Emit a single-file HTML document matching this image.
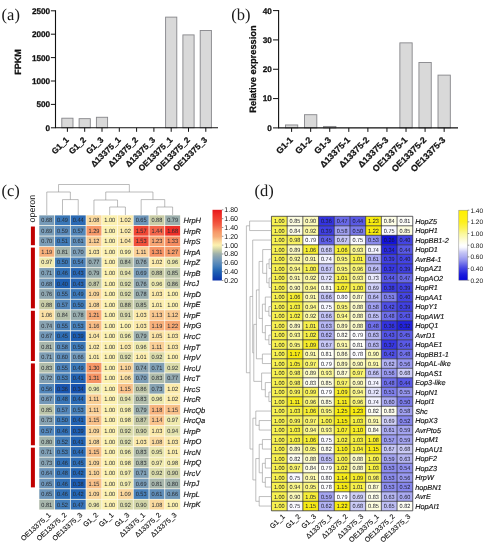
<!DOCTYPE html>
<html lang="en"><head><meta charset="utf-8"><title>Figure</title>
<style>html,body{margin:0;padding:0;background:#fff}svg{display:block}</style></head><body>
<svg width="487" height="550" viewBox="0 0 487 550" text-rendering="geometricPrecision">
<rect width="487" height="550" fill="#fff"/>
<text x="1.6" y="19.6" font-family='"Liberation Serif", "DejaVu Serif", serif' font-size="16.5" fill="#1a1a1a">(a)</text>
<text x="231.2" y="19.6" font-family='"Liberation Serif", "DejaVu Serif", serif' font-size="16.5" fill="#1a1a1a">(b)</text>
<text x="1.4" y="195.6" font-family='"Liberation Serif", "DejaVu Serif", serif' font-size="16.5" fill="#1a1a1a">(c)</text>
<text x="254.4" y="195.6" font-family='"Liberation Serif", "DejaVu Serif", serif' font-size="16.5" fill="#1a1a1a">(d)</text>
<rect x="61.8" y="118.21" width="11.2" height="9.59" fill="#d9d9d9" stroke="#86868a" stroke-width="0.9"/>
<rect x="79.1" y="118.67" width="11.2" height="9.13" fill="#d9d9d9" stroke="#86868a" stroke-width="0.9"/>
<rect x="96.4" y="117.27" width="11.2" height="10.53" fill="#d9d9d9" stroke="#86868a" stroke-width="0.9"/>
<rect x="165.6" y="17.12" width="11.2" height="110.68" fill="#d9d9d9" stroke="#86868a" stroke-width="0.9"/>
<rect x="182.9" y="34.9" width="11.2" height="92.9" fill="#d9d9d9" stroke="#86868a" stroke-width="0.9"/>
<rect x="200.2" y="30.46" width="11.2" height="97.34" fill="#d9d9d9" stroke="#86868a" stroke-width="0.9"/>
<path d="M55.5 10.3V127.8H218" fill="none" stroke="#111" stroke-width="1.1"/>
<path d="M50.9 127.8H55.5" stroke="#111" stroke-width="1"/>
<text x="50.1" y="130.7" text-anchor="end" font-family='"Liberation Sans", Arial, Helvetica, sans-serif' font-weight="bold" font-size="8.2" fill="#111" stroke="#111" stroke-width="0.25">0</text>
<path d="M50.9 104.4H55.5" stroke="#111" stroke-width="1"/>
<text x="50.1" y="107.3" text-anchor="end" font-family='"Liberation Sans", Arial, Helvetica, sans-serif' font-weight="bold" font-size="8.2" fill="#111" stroke="#111" stroke-width="0.25">500</text>
<path d="M50.9 81H55.5" stroke="#111" stroke-width="1"/>
<text x="50.1" y="83.9" text-anchor="end" font-family='"Liberation Sans", Arial, Helvetica, sans-serif' font-weight="bold" font-size="8.2" fill="#111" stroke="#111" stroke-width="0.25">1000</text>
<path d="M50.9 57.6H55.5" stroke="#111" stroke-width="1"/>
<text x="50.1" y="60.5" text-anchor="end" font-family='"Liberation Sans", Arial, Helvetica, sans-serif' font-weight="bold" font-size="8.2" fill="#111" stroke="#111" stroke-width="0.25">1500</text>
<path d="M50.9 34.2H55.5" stroke="#111" stroke-width="1"/>
<text x="50.1" y="37.1" text-anchor="end" font-family='"Liberation Sans", Arial, Helvetica, sans-serif' font-weight="bold" font-size="8.2" fill="#111" stroke="#111" stroke-width="0.25">2000</text>
<path d="M50.9 10.8H55.5" stroke="#111" stroke-width="1"/>
<text x="50.1" y="13.7" text-anchor="end" font-family='"Liberation Sans", Arial, Helvetica, sans-serif' font-weight="bold" font-size="8.2" fill="#111" stroke="#111" stroke-width="0.25">2500</text>
<path d="M67.4 127.8V131.8" stroke="#111" stroke-width="1"/>
<text transform="translate(69.3 140.5) rotate(-45)" text-anchor="end" font-family='"Liberation Sans", Arial, Helvetica, sans-serif' font-weight="bold" font-size="8.3" fill="#111" stroke="#111" stroke-width="0.25">G1_1</text>
<path d="M84.7 127.8V131.8" stroke="#111" stroke-width="1"/>
<text transform="translate(86.6 140.5) rotate(-45)" text-anchor="end" font-family='"Liberation Sans", Arial, Helvetica, sans-serif' font-weight="bold" font-size="8.3" fill="#111" stroke="#111" stroke-width="0.25">G1_2</text>
<path d="M102 127.8V131.8" stroke="#111" stroke-width="1"/>
<text transform="translate(103.9 140.5) rotate(-45)" text-anchor="end" font-family='"Liberation Sans", Arial, Helvetica, sans-serif' font-weight="bold" font-size="8.3" fill="#111" stroke="#111" stroke-width="0.25">G1_3</text>
<path d="M119.3 127.8V131.8" stroke="#111" stroke-width="1"/>
<text transform="translate(121.2 140.5) rotate(-45)" text-anchor="end" font-family='"Liberation Sans", Arial, Helvetica, sans-serif' font-weight="bold" font-size="8.3" fill="#111" stroke="#111" stroke-width="0.25">Δ13375_1</text>
<path d="M136.6 127.8V131.8" stroke="#111" stroke-width="1"/>
<text transform="translate(138.5 140.5) rotate(-45)" text-anchor="end" font-family='"Liberation Sans", Arial, Helvetica, sans-serif' font-weight="bold" font-size="8.3" fill="#111" stroke="#111" stroke-width="0.25">Δ13375_2</text>
<path d="M153.9 127.8V131.8" stroke="#111" stroke-width="1"/>
<text transform="translate(155.8 140.5) rotate(-45)" text-anchor="end" font-family='"Liberation Sans", Arial, Helvetica, sans-serif' font-weight="bold" font-size="8.3" fill="#111" stroke="#111" stroke-width="0.25">Δ13375_3</text>
<path d="M171.2 127.8V131.8" stroke="#111" stroke-width="1"/>
<text transform="translate(173.1 140.5) rotate(-45)" text-anchor="end" font-family='"Liberation Sans", Arial, Helvetica, sans-serif' font-weight="bold" font-size="8.3" fill="#111" stroke="#111" stroke-width="0.25">OE13375_1</text>
<path d="M188.5 127.8V131.8" stroke="#111" stroke-width="1"/>
<text transform="translate(190.4 140.5) rotate(-45)" text-anchor="end" font-family='"Liberation Sans", Arial, Helvetica, sans-serif' font-weight="bold" font-size="8.3" fill="#111" stroke="#111" stroke-width="0.25">OE13375_2</text>
<path d="M205.8 127.8V131.8" stroke="#111" stroke-width="1"/>
<text transform="translate(207.7 140.5) rotate(-45)" text-anchor="end" font-family='"Liberation Sans", Arial, Helvetica, sans-serif' font-weight="bold" font-size="8.3" fill="#111" stroke="#111" stroke-width="0.25">OE13375_3</text>
<text transform="translate(20.6 62) rotate(-90)" text-anchor="middle" font-family='"Liberation Sans", Arial, Helvetica, sans-serif' font-weight="bold" font-size="9" fill="#111" stroke="#111" stroke-width="0.25">FPKM</text>
<rect x="285.45" y="124.97" width="12.3" height="2.93" fill="#d9d9d9" stroke="#86868a" stroke-width="0.9"/>
<rect x="304.52" y="114.7" width="12.3" height="13.2" fill="#d9d9d9" stroke="#86868a" stroke-width="0.9"/>
<rect x="323.59" y="126.43" width="12.3" height="1.47" fill="#d9d9d9" stroke="#86868a" stroke-width="0.9"/>
<rect x="399.87" y="42.86" width="12.3" height="85.04" fill="#d9d9d9" stroke="#86868a" stroke-width="0.9"/>
<rect x="418.94" y="62.51" width="12.3" height="65.39" fill="#d9d9d9" stroke="#86868a" stroke-width="0.9"/>
<rect x="438.01" y="75.12" width="12.3" height="52.79" fill="#d9d9d9" stroke="#86868a" stroke-width="0.9"/>
<path d="M278.6 10.1V127.9H458" fill="none" stroke="#111" stroke-width="1.1"/>
<path d="M273 127.9H278.6" stroke="#111" stroke-width="1"/>
<text x="271.9" y="130.8" text-anchor="end" font-family='"Liberation Sans", Arial, Helvetica, sans-serif' font-weight="bold" font-size="8.2" fill="#111" stroke="#111" stroke-width="0.25">0</text>
<path d="M273 98.58H278.6" stroke="#111" stroke-width="1"/>
<text x="271.9" y="101.48" text-anchor="end" font-family='"Liberation Sans", Arial, Helvetica, sans-serif' font-weight="bold" font-size="8.2" fill="#111" stroke="#111" stroke-width="0.25">10</text>
<path d="M273 69.25H278.6" stroke="#111" stroke-width="1"/>
<text x="271.9" y="72.15" text-anchor="end" font-family='"Liberation Sans", Arial, Helvetica, sans-serif' font-weight="bold" font-size="8.2" fill="#111" stroke="#111" stroke-width="0.25">20</text>
<path d="M273 39.92H278.6" stroke="#111" stroke-width="1"/>
<text x="271.9" y="42.82" text-anchor="end" font-family='"Liberation Sans", Arial, Helvetica, sans-serif' font-weight="bold" font-size="8.2" fill="#111" stroke="#111" stroke-width="0.25">30</text>
<path d="M273 10.6H278.6" stroke="#111" stroke-width="1"/>
<text x="271.9" y="13.5" text-anchor="end" font-family='"Liberation Sans", Arial, Helvetica, sans-serif' font-weight="bold" font-size="8.2" fill="#111" stroke="#111" stroke-width="0.25">40</text>
<path d="M291.6 127.9V131.9" stroke="#111" stroke-width="1"/>
<text transform="translate(293.5 140.6) rotate(-45)" text-anchor="end" font-family='"Liberation Sans", Arial, Helvetica, sans-serif' font-weight="bold" font-size="8.8" fill="#111" stroke="#111" stroke-width="0.25">G1-1</text>
<path d="M310.67 127.9V131.9" stroke="#111" stroke-width="1"/>
<text transform="translate(312.57 140.6) rotate(-45)" text-anchor="end" font-family='"Liberation Sans", Arial, Helvetica, sans-serif' font-weight="bold" font-size="8.8" fill="#111" stroke="#111" stroke-width="0.25">G1-2</text>
<path d="M329.74 127.9V131.9" stroke="#111" stroke-width="1"/>
<text transform="translate(331.64 140.6) rotate(-45)" text-anchor="end" font-family='"Liberation Sans", Arial, Helvetica, sans-serif' font-weight="bold" font-size="8.8" fill="#111" stroke="#111" stroke-width="0.25">G1-3</text>
<path d="M348.81 127.9V131.9" stroke="#111" stroke-width="1"/>
<text transform="translate(350.71 140.6) rotate(-45)" text-anchor="end" font-family='"Liberation Sans", Arial, Helvetica, sans-serif' font-weight="bold" font-size="8.8" fill="#111" stroke="#111" stroke-width="0.25">Δ13375-1</text>
<path d="M367.88 127.9V131.9" stroke="#111" stroke-width="1"/>
<text transform="translate(369.78 140.6) rotate(-45)" text-anchor="end" font-family='"Liberation Sans", Arial, Helvetica, sans-serif' font-weight="bold" font-size="8.8" fill="#111" stroke="#111" stroke-width="0.25">Δ13375-2</text>
<path d="M386.95 127.9V131.9" stroke="#111" stroke-width="1"/>
<text transform="translate(388.85 140.6) rotate(-45)" text-anchor="end" font-family='"Liberation Sans", Arial, Helvetica, sans-serif' font-weight="bold" font-size="8.8" fill="#111" stroke="#111" stroke-width="0.25">Δ13375-3</text>
<path d="M406.02 127.9V131.9" stroke="#111" stroke-width="1"/>
<text transform="translate(407.92 140.6) rotate(-45)" text-anchor="end" font-family='"Liberation Sans", Arial, Helvetica, sans-serif' font-weight="bold" font-size="8.8" fill="#111" stroke="#111" stroke-width="0.25">OE13375-1</text>
<path d="M425.09 127.9V131.9" stroke="#111" stroke-width="1"/>
<text transform="translate(426.99 140.6) rotate(-45)" text-anchor="end" font-family='"Liberation Sans", Arial, Helvetica, sans-serif' font-weight="bold" font-size="8.8" fill="#111" stroke="#111" stroke-width="0.25">OE13375-2</text>
<path d="M444.16 127.9V131.9" stroke="#111" stroke-width="1"/>
<text transform="translate(446.06 140.6) rotate(-45)" text-anchor="end" font-family='"Liberation Sans", Arial, Helvetica, sans-serif' font-weight="bold" font-size="8.8" fill="#111" stroke="#111" stroke-width="0.25">OE13375-3</text>
<text transform="translate(255.9 69) rotate(-90)" text-anchor="middle" font-family='"Liberation Sans", Arial, Helvetica, sans-serif' font-weight="bold" font-size="9.3" fill="#111" stroke="#111" stroke-width="0.25">Relative expression</text>
<rect x="38.9" y="215" width="141.57" height="294.84" fill="#fcf9ec"/>
<rect x="39.3" y="215.4" width="14.93" height="9.73" fill="#769ab8"/>
<rect x="55.03" y="215.4" width="14.93" height="9.73" fill="#3b78b8"/>
<rect x="70.76" y="215.4" width="14.93" height="9.73" fill="#2b6ab5"/>
<rect x="86.49" y="215.4" width="14.93" height="9.73" fill="#fad99e"/>
<rect x="102.22" y="215.4" width="14.93" height="9.73" fill="#fcf1b0"/>
<rect x="117.95" y="215.4" width="14.93" height="9.73" fill="#fcebac"/>
<rect x="133.68" y="215.4" width="14.93" height="9.73" fill="#6d95b9"/>
<rect x="149.41" y="215.4" width="14.93" height="9.73" fill="#c8cca6"/>
<rect x="165.14" y="215.4" width="14.93" height="9.73" fill="#9cafad"/>
<rect x="39.3" y="225.93" width="14.93" height="9.73" fill="#799cb7"/>
<rect x="55.03" y="225.93" width="14.93" height="9.73" fill="#5a8aba"/>
<rect x="70.76" y="225.93" width="14.93" height="9.73" fill="#5487ba"/>
<rect x="86.49" y="225.93" width="14.93" height="9.73" fill="#f69868"/>
<rect x="102.22" y="225.93" width="14.93" height="9.73" fill="#fcf1b0"/>
<rect x="117.95" y="225.93" width="14.93" height="9.73" fill="#fcebac"/>
<rect x="133.68" y="225.93" width="14.93" height="9.73" fill="#f04634"/>
<rect x="149.41" y="225.93" width="14.93" height="9.73" fill="#f3654a"/>
<rect x="165.14" y="225.93" width="14.93" height="9.73" fill="#ee3028"/>
<rect x="39.3" y="236.46" width="14.93" height="9.73" fill="#7c9db6"/>
<rect x="55.03" y="236.46" width="14.93" height="9.73" fill="#417cb8"/>
<rect x="70.76" y="236.46" width="14.93" height="9.73" fill="#608eb9"/>
<rect x="86.49" y="236.46" width="14.93" height="9.73" fill="#f9cb92"/>
<rect x="102.22" y="236.46" width="14.93" height="9.73" fill="#fcf1b0"/>
<rect x="117.95" y="236.46" width="14.93" height="9.73" fill="#fbe6a7"/>
<rect x="133.68" y="236.46" width="14.93" height="9.73" fill="#f14f3b"/>
<rect x="149.41" y="236.46" width="14.93" height="9.73" fill="#f7a573"/>
<rect x="165.14" y="236.46" width="14.93" height="9.73" fill="#f58c60"/>
<rect x="39.3" y="246.99" width="14.93" height="9.73" fill="#f7b07b"/>
<rect x="55.03" y="246.99" width="14.93" height="9.73" fill="#a7b6ac"/>
<rect x="70.76" y="246.99" width="14.93" height="9.73" fill="#7c9db6"/>
<rect x="86.49" y="246.99" width="14.93" height="9.73" fill="#fbe9a9"/>
<rect x="102.22" y="246.99" width="14.93" height="9.73" fill="#fcf1b0"/>
<rect x="117.95" y="246.99" width="14.93" height="9.73" fill="#f8efaf"/>
<rect x="133.68" y="246.99" width="14.93" height="9.73" fill="#facf96"/>
<rect x="149.41" y="246.99" width="14.93" height="9.73" fill="#f69364"/>
<rect x="165.14" y="246.99" width="14.93" height="9.73" fill="#f69d6b"/>
<rect x="39.3" y="257.52" width="14.93" height="9.73" fill="#f0eaae"/>
<rect x="55.03" y="257.52" width="14.93" height="9.73" fill="#3e7ab8"/>
<rect x="70.76" y="257.52" width="14.93" height="9.73" fill="#4b81b9"/>
<rect x="86.49" y="257.52" width="14.93" height="9.73" fill="#92a8ae"/>
<rect x="102.22" y="257.52" width="14.93" height="9.73" fill="#fcf1b0"/>
<rect x="117.95" y="257.52" width="14.93" height="9.73" fill="#b6c1aa"/>
<rect x="133.68" y="257.52" width="14.93" height="9.73" fill="#8fa6af"/>
<rect x="149.41" y="257.52" width="14.93" height="9.73" fill="#fcebac"/>
<rect x="165.14" y="257.52" width="14.93" height="9.73" fill="#ece8ad"/>
<rect x="39.3" y="268.05" width="14.93" height="9.73" fill="#7f9fb5"/>
<rect x="55.03" y="268.05" width="14.93" height="9.73" fill="#3170b6"/>
<rect x="70.76" y="268.05" width="14.93" height="9.73" fill="#2867b4"/>
<rect x="86.49" y="268.05" width="14.93" height="9.73" fill="#9cafad"/>
<rect x="102.22" y="268.05" width="14.93" height="9.73" fill="#fcf1b0"/>
<rect x="117.95" y="268.05" width="14.93" height="9.73" fill="#e3e1ac"/>
<rect x="133.68" y="268.05" width="14.93" height="9.73" fill="#799cb7"/>
<rect x="149.41" y="268.05" width="14.93" height="9.73" fill="#c8cca6"/>
<rect x="165.14" y="268.05" width="14.93" height="9.73" fill="#bac4a9"/>
<rect x="39.3" y="278.58" width="14.93" height="9.73" fill="#769ab8"/>
<rect x="55.03" y="278.58" width="14.93" height="9.73" fill="#1e5fb2"/>
<rect x="70.76" y="278.58" width="14.93" height="9.73" fill="#2867b4"/>
<rect x="86.49" y="278.58" width="14.93" height="9.73" fill="#c4c9a7"/>
<rect x="102.22" y="278.58" width="14.93" height="9.73" fill="#fcf1b0"/>
<rect x="117.95" y="278.58" width="14.93" height="9.73" fill="#dadbaa"/>
<rect x="133.68" y="278.58" width="14.93" height="9.73" fill="#8fa6af"/>
<rect x="149.41" y="278.58" width="14.93" height="9.73" fill="#ece8ad"/>
<rect x="165.14" y="278.58" width="14.93" height="9.73" fill="#bfc6a8"/>
<rect x="39.3" y="289.11" width="14.93" height="9.73" fill="#8fa6af"/>
<rect x="55.03" y="289.11" width="14.93" height="9.73" fill="#4e83ba"/>
<rect x="70.76" y="289.11" width="14.93" height="9.73" fill="#3b78b8"/>
<rect x="86.49" y="289.11" width="14.93" height="9.73" fill="#fad69b"/>
<rect x="102.22" y="289.11" width="14.93" height="9.73" fill="#fcf1b0"/>
<rect x="117.95" y="289.11" width="14.93" height="9.73" fill="#dadbaa"/>
<rect x="133.68" y="289.11" width="14.93" height="9.73" fill="#97acad"/>
<rect x="149.41" y="289.11" width="14.93" height="9.73" fill="#fbe9a9"/>
<rect x="165.14" y="289.11" width="14.93" height="9.73" fill="#fcf1b0"/>
<rect x="39.3" y="299.64" width="14.93" height="9.73" fill="#c8cca6"/>
<rect x="55.03" y="299.64" width="14.93" height="9.73" fill="#5487ba"/>
<rect x="70.76" y="299.64" width="14.93" height="9.73" fill="#3e7ab8"/>
<rect x="86.49" y="299.64" width="14.93" height="9.73" fill="#fad99e"/>
<rect x="102.22" y="299.64" width="14.93" height="9.73" fill="#fcf1b0"/>
<rect x="117.95" y="299.64" width="14.93" height="9.73" fill="#c8cca6"/>
<rect x="133.68" y="299.64" width="14.93" height="9.73" fill="#bac4a9"/>
<rect x="149.41" y="299.64" width="14.93" height="9.73" fill="#fceeae"/>
<rect x="165.14" y="299.64" width="14.93" height="9.73" fill="#fcf1b0"/>
<rect x="39.3" y="310.17" width="14.93" height="9.73" fill="#fbe0a3"/>
<rect x="55.03" y="310.17" width="14.93" height="9.73" fill="#b6c1aa"/>
<rect x="70.76" y="310.17" width="14.93" height="9.73" fill="#97acad"/>
<rect x="86.49" y="310.17" width="14.93" height="9.73" fill="#f7aa76"/>
<rect x="102.22" y="310.17" width="14.93" height="9.73" fill="#fcf1b0"/>
<rect x="117.95" y="310.17" width="14.93" height="9.73" fill="#d6d7a9"/>
<rect x="133.68" y="310.17" width="14.93" height="9.73" fill="#fbe9a9"/>
<rect x="149.41" y="310.17" width="14.93" height="9.73" fill="#f9c78f"/>
<rect x="165.14" y="310.17" width="14.93" height="9.73" fill="#f9cb92"/>
<rect x="39.3" y="320.7" width="14.93" height="9.73" fill="#89a3b1"/>
<rect x="55.03" y="320.7" width="14.93" height="9.73" fill="#4e83ba"/>
<rect x="70.76" y="320.7" width="14.93" height="9.73" fill="#4880b9"/>
<rect x="86.49" y="320.7" width="14.93" height="9.73" fill="#f8bc85"/>
<rect x="102.22" y="320.7" width="14.93" height="9.73" fill="#fcf1b0"/>
<rect x="117.95" y="320.7" width="14.93" height="9.73" fill="#fcf1b0"/>
<rect x="133.68" y="320.7" width="14.93" height="9.73" fill="#fbe9a9"/>
<rect x="149.41" y="320.7" width="14.93" height="9.73" fill="#f7b07b"/>
<rect x="165.14" y="320.7" width="14.93" height="9.73" fill="#f7a874"/>
<rect x="39.3" y="331.23" width="14.93" height="9.73" fill="#7398b8"/>
<rect x="55.03" y="331.23" width="14.93" height="9.73" fill="#2e6db5"/>
<rect x="70.76" y="331.23" width="14.93" height="9.73" fill="#1d5db2"/>
<rect x="86.49" y="331.23" width="14.93" height="9.73" fill="#fbe6a7"/>
<rect x="102.22" y="331.23" width="14.93" height="9.73" fill="#fcf1b0"/>
<rect x="117.95" y="331.23" width="14.93" height="9.73" fill="#ece8ad"/>
<rect x="133.68" y="331.23" width="14.93" height="9.73" fill="#9cafad"/>
<rect x="149.41" y="331.23" width="14.93" height="9.73" fill="#fbe3a5"/>
<rect x="165.14" y="331.23" width="14.93" height="9.73" fill="#fbe9a9"/>
<rect x="39.3" y="341.76" width="14.93" height="9.73" fill="#a7b6ac"/>
<rect x="55.03" y="341.76" width="14.93" height="9.73" fill="#5789ba"/>
<rect x="70.76" y="341.76" width="14.93" height="9.73" fill="#3e7ab8"/>
<rect x="86.49" y="341.76" width="14.93" height="9.73" fill="#fcebac"/>
<rect x="102.22" y="341.76" width="14.93" height="9.73" fill="#fcf1b0"/>
<rect x="117.95" y="341.76" width="14.93" height="9.73" fill="#fbe9a9"/>
<rect x="133.68" y="341.76" width="14.93" height="9.73" fill="#ece8ad"/>
<rect x="149.41" y="341.76" width="14.93" height="9.73" fill="#facf96"/>
<rect x="165.14" y="341.76" width="14.93" height="9.73" fill="#fbe9a9"/>
<rect x="39.3" y="352.29" width="14.93" height="9.73" fill="#7f9fb5"/>
<rect x="55.03" y="352.29" width="14.93" height="9.73" fill="#5d8cb9"/>
<rect x="70.76" y="352.29" width="14.93" height="9.73" fill="#7097b8"/>
<rect x="86.49" y="352.29" width="14.93" height="9.73" fill="#fceeae"/>
<rect x="102.22" y="352.29" width="14.93" height="9.73" fill="#fcf1b0"/>
<rect x="117.95" y="352.29" width="14.93" height="9.73" fill="#dadbaa"/>
<rect x="133.68" y="352.29" width="14.93" height="9.73" fill="#fceeae"/>
<rect x="149.41" y="352.29" width="14.93" height="9.73" fill="#dadbaa"/>
<rect x="165.14" y="352.29" width="14.93" height="9.73" fill="#fcf1b0"/>
<rect x="39.3" y="362.82" width="14.93" height="9.73" fill="#b1bdab"/>
<rect x="55.03" y="362.82" width="14.93" height="9.73" fill="#4e83ba"/>
<rect x="70.76" y="362.82" width="14.93" height="9.73" fill="#3b78b8"/>
<rect x="86.49" y="362.82" width="14.93" height="9.73" fill="#f69666"/>
<rect x="102.22" y="362.82" width="14.93" height="9.73" fill="#fcf1b0"/>
<rect x="117.95" y="362.82" width="14.93" height="9.73" fill="#fad399"/>
<rect x="133.68" y="362.82" width="14.93" height="9.73" fill="#89a3b1"/>
<rect x="149.41" y="362.82" width="14.93" height="9.73" fill="#7f9fb5"/>
<rect x="165.14" y="362.82" width="14.93" height="9.73" fill="#dadbaa"/>
<rect x="39.3" y="373.35" width="14.93" height="9.73" fill="#82a0b4"/>
<rect x="55.03" y="373.35" width="14.93" height="9.73" fill="#4880b9"/>
<rect x="70.76" y="373.35" width="14.93" height="9.73" fill="#2162b3"/>
<rect x="86.49" y="373.35" width="14.93" height="9.73" fill="#f69364"/>
<rect x="102.22" y="373.35" width="14.93" height="9.73" fill="#fcf1b0"/>
<rect x="117.95" y="373.35" width="14.93" height="9.73" fill="#fbe0a3"/>
<rect x="133.68" y="373.35" width="14.93" height="9.73" fill="#7c9db6"/>
<rect x="149.41" y="373.35" width="14.93" height="9.73" fill="#b1bdab"/>
<rect x="165.14" y="373.35" width="14.93" height="9.73" fill="#92a8ae"/>
<rect x="39.3" y="383.88" width="14.93" height="9.73" fill="#5185ba"/>
<rect x="55.03" y="383.88" width="14.93" height="9.73" fill="#1956b1"/>
<rect x="70.76" y="383.88" width="14.93" height="9.73" fill="#1652b0"/>
<rect x="86.49" y="383.88" width="14.93" height="9.73" fill="#ece8ad"/>
<rect x="102.22" y="383.88" width="14.93" height="9.73" fill="#fcf1b0"/>
<rect x="117.95" y="383.88" width="14.93" height="9.73" fill="#f8c089"/>
<rect x="133.68" y="383.88" width="14.93" height="9.73" fill="#bfc6a8"/>
<rect x="149.41" y="383.88" width="14.93" height="9.73" fill="#86a2b2"/>
<rect x="165.14" y="383.88" width="14.93" height="9.73" fill="#fcebac"/>
<rect x="39.3" y="394.41" width="14.93" height="9.73" fill="#7398b8"/>
<rect x="55.03" y="394.41" width="14.93" height="9.73" fill="#3875b7"/>
<rect x="70.76" y="394.41" width="14.93" height="9.73" fill="#2b6ab5"/>
<rect x="86.49" y="394.41" width="14.93" height="9.73" fill="#facf96"/>
<rect x="102.22" y="394.41" width="14.93" height="9.73" fill="#fcf1b0"/>
<rect x="117.95" y="394.41" width="14.93" height="9.73" fill="#e3e1ac"/>
<rect x="133.68" y="394.41" width="14.93" height="9.73" fill="#b1bdab"/>
<rect x="149.41" y="394.41" width="14.93" height="9.73" fill="#ece8ad"/>
<rect x="165.14" y="394.41" width="14.93" height="9.73" fill="#fcebac"/>
<rect x="39.3" y="404.94" width="14.93" height="9.73" fill="#bac4a9"/>
<rect x="55.03" y="404.94" width="14.93" height="9.73" fill="#5487ba"/>
<rect x="70.76" y="404.94" width="14.93" height="9.73" fill="#4880b9"/>
<rect x="86.49" y="404.94" width="14.93" height="9.73" fill="#facf96"/>
<rect x="102.22" y="404.94" width="14.93" height="9.73" fill="#fcf1b0"/>
<rect x="117.95" y="404.94" width="14.93" height="9.73" fill="#f4ecae"/>
<rect x="133.68" y="404.94" width="14.93" height="9.73" fill="#9cafad"/>
<rect x="149.41" y="404.94" width="14.93" height="9.73" fill="#f8b47f"/>
<rect x="165.14" y="404.94" width="14.93" height="9.73" fill="#f8c089"/>
<rect x="39.3" y="415.47" width="14.93" height="9.73" fill="#86a2b2"/>
<rect x="55.03" y="415.47" width="14.93" height="9.73" fill="#3e7ab8"/>
<rect x="70.76" y="415.47" width="14.93" height="9.73" fill="#2162b3"/>
<rect x="86.49" y="415.47" width="14.93" height="9.73" fill="#f8c089"/>
<rect x="102.22" y="415.47" width="14.93" height="9.73" fill="#fcf1b0"/>
<rect x="117.95" y="415.47" width="14.93" height="9.73" fill="#f4ecae"/>
<rect x="133.68" y="415.47" width="14.93" height="9.73" fill="#c4c9a7"/>
<rect x="149.41" y="415.47" width="14.93" height="9.73" fill="#f9c38c"/>
<rect x="165.14" y="415.47" width="14.93" height="9.73" fill="#f0eaae"/>
<rect x="39.3" y="426" width="14.93" height="9.73" fill="#5487ba"/>
<rect x="55.03" y="426" width="14.93" height="9.73" fill="#3170b6"/>
<rect x="70.76" y="426" width="14.93" height="9.73" fill="#1d5db2"/>
<rect x="86.49" y="426" width="14.93" height="9.73" fill="#fad69b"/>
<rect x="102.22" y="426" width="14.93" height="9.73" fill="#fcf1b0"/>
<rect x="117.95" y="426" width="14.93" height="9.73" fill="#dadbaa"/>
<rect x="133.68" y="426" width="14.93" height="9.73" fill="#d1d4a8"/>
<rect x="149.41" y="426" width="14.93" height="9.73" fill="#fbe9a9"/>
<rect x="165.14" y="426" width="14.93" height="9.73" fill="#e3e1ac"/>
<rect x="39.3" y="436.53" width="14.93" height="9.73" fill="#a1b3ac"/>
<rect x="55.03" y="436.53" width="14.93" height="9.73" fill="#447eb9"/>
<rect x="70.76" y="436.53" width="14.93" height="9.73" fill="#2162b3"/>
<rect x="86.49" y="436.53" width="14.93" height="9.73" fill="#fad99e"/>
<rect x="102.22" y="436.53" width="14.93" height="9.73" fill="#fcf1b0"/>
<rect x="117.95" y="436.53" width="14.93" height="9.73" fill="#dadbaa"/>
<rect x="133.68" y="436.53" width="14.93" height="9.73" fill="#fbe9a9"/>
<rect x="149.41" y="436.53" width="14.93" height="9.73" fill="#fad99e"/>
<rect x="165.14" y="436.53" width="14.93" height="9.73" fill="#fbe9a9"/>
<rect x="39.3" y="447.06" width="14.93" height="9.73" fill="#7f9fb5"/>
<rect x="55.03" y="447.06" width="14.93" height="9.73" fill="#4880b9"/>
<rect x="70.76" y="447.06" width="14.93" height="9.73" fill="#2b6ab5"/>
<rect x="86.49" y="447.06" width="14.93" height="9.73" fill="#f8c089"/>
<rect x="102.22" y="447.06" width="14.93" height="9.73" fill="#fcf1b0"/>
<rect x="117.95" y="447.06" width="14.93" height="9.73" fill="#ece8ad"/>
<rect x="133.68" y="447.06" width="14.93" height="9.73" fill="#b1bdab"/>
<rect x="149.41" y="447.06" width="14.93" height="9.73" fill="#e8e5ac"/>
<rect x="165.14" y="447.06" width="14.93" height="9.73" fill="#fceeae"/>
<rect x="39.3" y="457.59" width="14.93" height="9.73" fill="#86a2b2"/>
<rect x="55.03" y="457.59" width="14.93" height="9.73" fill="#3170b6"/>
<rect x="70.76" y="457.59" width="14.93" height="9.73" fill="#2e6db5"/>
<rect x="86.49" y="457.59" width="14.93" height="9.73" fill="#fad69b"/>
<rect x="102.22" y="457.59" width="14.93" height="9.73" fill="#fcf1b0"/>
<rect x="117.95" y="457.59" width="14.93" height="9.73" fill="#f4ecae"/>
<rect x="133.68" y="457.59" width="14.93" height="9.73" fill="#b1bdab"/>
<rect x="149.41" y="457.59" width="14.93" height="9.73" fill="#f0eaae"/>
<rect x="165.14" y="457.59" width="14.93" height="9.73" fill="#f4ecae"/>
<rect x="39.3" y="468.12" width="14.93" height="9.73" fill="#6a93b9"/>
<rect x="55.03" y="468.12" width="14.93" height="9.73" fill="#3875b7"/>
<rect x="70.76" y="468.12" width="14.93" height="9.73" fill="#2465b3"/>
<rect x="86.49" y="468.12" width="14.93" height="9.73" fill="#fad399"/>
<rect x="102.22" y="468.12" width="14.93" height="9.73" fill="#fcf1b0"/>
<rect x="117.95" y="468.12" width="14.93" height="9.73" fill="#f0eaae"/>
<rect x="133.68" y="468.12" width="14.93" height="9.73" fill="#7f9fb5"/>
<rect x="149.41" y="468.12" width="14.93" height="9.73" fill="#dadbaa"/>
<rect x="165.14" y="468.12" width="14.93" height="9.73" fill="#d1d4a8"/>
<rect x="39.3" y="478.65" width="14.93" height="9.73" fill="#6d95b9"/>
<rect x="55.03" y="478.65" width="14.93" height="9.73" fill="#3170b6"/>
<rect x="70.76" y="478.65" width="14.93" height="9.73" fill="#1b5bb1"/>
<rect x="86.49" y="478.65" width="14.93" height="9.73" fill="#f8c089"/>
<rect x="102.22" y="478.65" width="14.93" height="9.73" fill="#fcf1b0"/>
<rect x="117.95" y="478.65" width="14.93" height="9.73" fill="#f0eaae"/>
<rect x="133.68" y="478.65" width="14.93" height="9.73" fill="#799cb7"/>
<rect x="149.41" y="478.65" width="14.93" height="9.73" fill="#a7b6ac"/>
<rect x="165.14" y="478.65" width="14.93" height="9.73" fill="#a1b3ac"/>
<rect x="39.3" y="489.18" width="14.93" height="9.73" fill="#6d95b9"/>
<rect x="55.03" y="489.18" width="14.93" height="9.73" fill="#3170b6"/>
<rect x="70.76" y="489.18" width="14.93" height="9.73" fill="#2465b3"/>
<rect x="86.49" y="489.18" width="14.93" height="9.73" fill="#fad69b"/>
<rect x="102.22" y="489.18" width="14.93" height="9.73" fill="#fcf1b0"/>
<rect x="117.95" y="489.18" width="14.93" height="9.73" fill="#fad69b"/>
<rect x="133.68" y="489.18" width="14.93" height="9.73" fill="#4880b9"/>
<rect x="149.41" y="489.18" width="14.93" height="9.73" fill="#608eb9"/>
<rect x="165.14" y="489.18" width="14.93" height="9.73" fill="#7097b8"/>
<rect x="39.3" y="499.71" width="14.93" height="9.73" fill="#a7b6ac"/>
<rect x="55.03" y="499.71" width="14.93" height="9.73" fill="#447eb9"/>
<rect x="70.76" y="499.71" width="14.93" height="9.73" fill="#3572b7"/>
<rect x="86.49" y="499.71" width="14.93" height="9.73" fill="#ece8ad"/>
<rect x="102.22" y="499.71" width="14.93" height="9.73" fill="#fcf1b0"/>
<rect x="117.95" y="499.71" width="14.93" height="9.73" fill="#dadbaa"/>
<rect x="133.68" y="499.71" width="14.93" height="9.73" fill="#d1d4a8"/>
<rect x="149.41" y="499.71" width="14.93" height="9.73" fill="#fad99e"/>
<rect x="165.14" y="499.71" width="14.93" height="9.73" fill="#fcf1b0"/>
<g transform="scale(0.92 1)" font-family='"Liberation Sans", Arial, Helvetica, sans-serif' font-size="6.1" fill="#262a30" text-anchor="middle">
<text x="50.83" y="222.36">0.68</text>
<text x="67.93" y="222.36">0.49</text>
<text x="85.03" y="222.36">0.44</text>
<text x="102.12" y="222.36">1.08</text>
<text x="119.22" y="222.36">1.00</text>
<text x="136.32" y="222.36">1.02</text>
<text x="153.42" y="222.36">0.65</text>
<text x="170.52" y="222.36">0.88</text>
<text x="187.61" y="222.36">0.79</text>
<text x="50.83" y="232.89">0.69</text>
<text x="67.93" y="232.89">0.59</text>
<text x="85.03" y="232.89">0.57</text>
<text x="102.12" y="232.89">1.29</text>
<text x="119.22" y="232.89">1.00</text>
<text x="136.32" y="232.89">1.02</text>
<text x="153.42" y="232.89">1.57</text>
<text x="170.52" y="232.89">1.44</text>
<text x="187.61" y="232.89">1.68</text>
<text x="50.83" y="243.42">0.70</text>
<text x="67.93" y="243.42">0.51</text>
<text x="85.03" y="243.42">0.61</text>
<text x="102.12" y="243.42">1.12</text>
<text x="119.22" y="243.42">1.00</text>
<text x="136.32" y="243.42">1.04</text>
<text x="153.42" y="243.42">1.53</text>
<text x="170.52" y="243.42">1.23</text>
<text x="187.61" y="243.42">1.33</text>
<text x="50.83" y="253.95">1.19</text>
<text x="67.93" y="253.95">0.81</text>
<text x="85.03" y="253.95">0.70</text>
<text x="102.12" y="253.95">1.03</text>
<text x="119.22" y="253.95">1.00</text>
<text x="136.32" y="253.95">0.99</text>
<text x="153.42" y="253.95">1.11</text>
<text x="170.52" y="253.95">1.31</text>
<text x="187.61" y="253.95">1.27</text>
<text x="50.83" y="264.49">0.97</text>
<text x="67.93" y="264.49">0.50</text>
<text x="85.03" y="264.49">0.54</text>
<text x="102.12" y="264.49">0.77</text>
<text x="119.22" y="264.49">1.00</text>
<text x="136.32" y="264.49">0.84</text>
<text x="153.42" y="264.49">0.76</text>
<text x="170.52" y="264.49">1.02</text>
<text x="187.61" y="264.49">0.96</text>
<text x="50.83" y="275.01">0.71</text>
<text x="67.93" y="275.01">0.46</text>
<text x="85.03" y="275.01">0.43</text>
<text x="102.12" y="275.01">0.79</text>
<text x="119.22" y="275.01">1.00</text>
<text x="136.32" y="275.01">0.94</text>
<text x="153.42" y="275.01">0.69</text>
<text x="170.52" y="275.01">0.88</text>
<text x="187.61" y="275.01">0.85</text>
<text x="50.83" y="285.55">0.68</text>
<text x="67.93" y="285.55">0.40</text>
<text x="85.03" y="285.55">0.43</text>
<text x="102.12" y="285.55">0.87</text>
<text x="119.22" y="285.55">1.00</text>
<text x="136.32" y="285.55">0.92</text>
<text x="153.42" y="285.55">0.76</text>
<text x="170.52" y="285.55">0.96</text>
<text x="187.61" y="285.55">0.86</text>
<text x="50.83" y="296.07">0.76</text>
<text x="67.93" y="296.07">0.55</text>
<text x="85.03" y="296.07">0.49</text>
<text x="102.12" y="296.07">1.09</text>
<text x="119.22" y="296.07">1.00</text>
<text x="136.32" y="296.07">0.92</text>
<text x="153.42" y="296.07">0.78</text>
<text x="170.52" y="296.07">1.03</text>
<text x="187.61" y="296.07">1.00</text>
<text x="50.83" y="306.61">0.88</text>
<text x="67.93" y="306.61">0.57</text>
<text x="85.03" y="306.61">0.50</text>
<text x="102.12" y="306.61">1.08</text>
<text x="119.22" y="306.61">1.00</text>
<text x="136.32" y="306.61">0.88</text>
<text x="153.42" y="306.61">0.85</text>
<text x="170.52" y="306.61">1.01</text>
<text x="187.61" y="306.61">1.00</text>
<text x="50.83" y="317.13">1.06</text>
<text x="67.93" y="317.13">0.84</text>
<text x="85.03" y="317.13">0.78</text>
<text x="102.12" y="317.13">1.21</text>
<text x="119.22" y="317.13">1.00</text>
<text x="136.32" y="317.13">0.91</text>
<text x="153.42" y="317.13">1.03</text>
<text x="170.52" y="317.13">1.13</text>
<text x="187.61" y="317.13">1.12</text>
<text x="50.83" y="327.67">0.74</text>
<text x="67.93" y="327.67">0.55</text>
<text x="85.03" y="327.67">0.53</text>
<text x="102.12" y="327.67">1.16</text>
<text x="119.22" y="327.67">1.00</text>
<text x="136.32" y="327.67">1.00</text>
<text x="153.42" y="327.67">1.03</text>
<text x="170.52" y="327.67">1.19</text>
<text x="187.61" y="327.67">1.22</text>
<text x="50.83" y="338.19">0.67</text>
<text x="67.93" y="338.19">0.45</text>
<text x="85.03" y="338.19">0.39</text>
<text x="102.12" y="338.19">1.04</text>
<text x="119.22" y="338.19">1.00</text>
<text x="136.32" y="338.19">0.96</text>
<text x="153.42" y="338.19">0.79</text>
<text x="170.52" y="338.19">1.05</text>
<text x="187.61" y="338.19">1.03</text>
<text x="50.83" y="348.73">0.81</text>
<text x="67.93" y="348.73">0.58</text>
<text x="85.03" y="348.73">0.50</text>
<text x="102.12" y="348.73">1.02</text>
<text x="119.22" y="348.73">1.00</text>
<text x="136.32" y="348.73">1.03</text>
<text x="153.42" y="348.73">0.96</text>
<text x="170.52" y="348.73">1.11</text>
<text x="187.61" y="348.73">1.03</text>
<text x="50.83" y="359.25">0.71</text>
<text x="67.93" y="359.25">0.60</text>
<text x="85.03" y="359.25">0.66</text>
<text x="102.12" y="359.25">1.01</text>
<text x="119.22" y="359.25">1.00</text>
<text x="136.32" y="359.25">0.92</text>
<text x="153.42" y="359.25">1.01</text>
<text x="170.52" y="359.25">0.92</text>
<text x="187.61" y="359.25">1.00</text>
<text x="50.83" y="369.78">0.83</text>
<text x="67.93" y="369.78">0.55</text>
<text x="85.03" y="369.78">0.49</text>
<text x="102.12" y="369.78">1.30</text>
<text x="119.22" y="369.78">1.00</text>
<text x="136.32" y="369.78">1.10</text>
<text x="153.42" y="369.78">0.74</text>
<text x="170.52" y="369.78">0.71</text>
<text x="187.61" y="369.78">0.92</text>
<text x="50.83" y="380.31">0.72</text>
<text x="67.93" y="380.31">0.53</text>
<text x="85.03" y="380.31">0.41</text>
<text x="102.12" y="380.31">1.31</text>
<text x="119.22" y="380.31">1.00</text>
<text x="136.32" y="380.31">1.06</text>
<text x="153.42" y="380.31">0.70</text>
<text x="170.52" y="380.31">0.83</text>
<text x="187.61" y="380.31">0.77</text>
<text x="50.83" y="390.85">0.56</text>
<text x="67.93" y="390.85">0.36</text>
<text x="85.03" y="390.85">0.34</text>
<text x="102.12" y="390.85">0.96</text>
<text x="119.22" y="390.85">1.00</text>
<text x="136.32" y="390.85">1.15</text>
<text x="153.42" y="390.85">0.86</text>
<text x="170.52" y="390.85">0.73</text>
<text x="187.61" y="390.85">1.02</text>
<text x="50.83" y="401.38">0.67</text>
<text x="67.93" y="401.38">0.48</text>
<text x="85.03" y="401.38">0.44</text>
<text x="102.12" y="401.38">1.11</text>
<text x="119.22" y="401.38">1.00</text>
<text x="136.32" y="401.38">0.94</text>
<text x="153.42" y="401.38">0.83</text>
<text x="170.52" y="401.38">0.96</text>
<text x="187.61" y="401.38">1.02</text>
<text x="50.83" y="411.9">0.85</text>
<text x="67.93" y="411.9">0.57</text>
<text x="85.03" y="411.9">0.53</text>
<text x="102.12" y="411.9">1.11</text>
<text x="119.22" y="411.9">1.00</text>
<text x="136.32" y="411.9">0.98</text>
<text x="153.42" y="411.9">0.79</text>
<text x="170.52" y="411.9">1.18</text>
<text x="187.61" y="411.9">1.15</text>
<text x="50.83" y="422.44">0.73</text>
<text x="67.93" y="422.44">0.50</text>
<text x="85.03" y="422.44">0.41</text>
<text x="102.12" y="422.44">1.15</text>
<text x="119.22" y="422.44">1.00</text>
<text x="136.32" y="422.44">0.98</text>
<text x="153.42" y="422.44">0.87</text>
<text x="170.52" y="422.44">1.14</text>
<text x="187.61" y="422.44">0.97</text>
<text x="50.83" y="432.97">0.57</text>
<text x="67.93" y="432.97">0.46</text>
<text x="85.03" y="432.97">0.39</text>
<text x="102.12" y="432.97">1.09</text>
<text x="119.22" y="432.97">1.00</text>
<text x="136.32" y="432.97">0.92</text>
<text x="153.42" y="432.97">0.90</text>
<text x="170.52" y="432.97">1.03</text>
<text x="187.61" y="432.97">0.94</text>
<text x="50.83" y="443.5">0.80</text>
<text x="67.93" y="443.5">0.52</text>
<text x="85.03" y="443.5">0.41</text>
<text x="102.12" y="443.5">1.08</text>
<text x="119.22" y="443.5">1.00</text>
<text x="136.32" y="443.5">0.92</text>
<text x="153.42" y="443.5">1.03</text>
<text x="170.52" y="443.5">1.08</text>
<text x="187.61" y="443.5">1.03</text>
<text x="50.83" y="454.02">0.71</text>
<text x="67.93" y="454.02">0.53</text>
<text x="85.03" y="454.02">0.44</text>
<text x="102.12" y="454.02">1.15</text>
<text x="119.22" y="454.02">1.00</text>
<text x="136.32" y="454.02">0.96</text>
<text x="153.42" y="454.02">0.83</text>
<text x="170.52" y="454.02">0.95</text>
<text x="187.61" y="454.02">1.01</text>
<text x="50.83" y="464.56">0.73</text>
<text x="67.93" y="464.56">0.46</text>
<text x="85.03" y="464.56">0.45</text>
<text x="102.12" y="464.56">1.09</text>
<text x="119.22" y="464.56">1.00</text>
<text x="136.32" y="464.56">0.98</text>
<text x="153.42" y="464.56">0.83</text>
<text x="170.52" y="464.56">0.97</text>
<text x="187.61" y="464.56">0.98</text>
<text x="50.83" y="475.08">0.64</text>
<text x="67.93" y="475.08">0.48</text>
<text x="85.03" y="475.08">0.42</text>
<text x="102.12" y="475.08">1.10</text>
<text x="119.22" y="475.08">1.00</text>
<text x="136.32" y="475.08">0.97</text>
<text x="153.42" y="475.08">0.71</text>
<text x="170.52" y="475.08">0.92</text>
<text x="187.61" y="475.08">0.90</text>
<text x="50.83" y="485.62">0.65</text>
<text x="67.93" y="485.62">0.46</text>
<text x="85.03" y="485.62">0.38</text>
<text x="102.12" y="485.62">1.15</text>
<text x="119.22" y="485.62">1.00</text>
<text x="136.32" y="485.62">0.97</text>
<text x="153.42" y="485.62">0.69</text>
<text x="170.52" y="485.62">0.81</text>
<text x="187.61" y="485.62">0.80</text>
<text x="50.83" y="496.14">0.65</text>
<text x="67.93" y="496.14">0.46</text>
<text x="85.03" y="496.14">0.42</text>
<text x="102.12" y="496.14">1.09</text>
<text x="119.22" y="496.14">1.00</text>
<text x="136.32" y="496.14">1.09</text>
<text x="153.42" y="496.14">0.53</text>
<text x="170.52" y="496.14">0.61</text>
<text x="187.61" y="496.14">0.66</text>
<text x="50.83" y="506.68">0.81</text>
<text x="67.93" y="506.68">0.52</text>
<text x="85.03" y="506.68">0.47</text>
<text x="102.12" y="506.68">0.96</text>
<text x="119.22" y="506.68">1.00</text>
<text x="136.32" y="506.68">0.92</text>
<text x="153.42" y="506.68">0.90</text>
<text x="170.52" y="506.68">1.08</text>
<text x="187.61" y="506.68">1.00</text>
</g>
<g font-family='"Liberation Sans", Arial, Helvetica, sans-serif' font-style="italic" font-size="7.5" fill="#111" stroke="#111" stroke-width="0.15">
<text x="183.47" y="223.16">HrpH</text>
<text x="183.47" y="233.69">HrpR</text>
<text x="183.47" y="244.22">HrpS</text>
<text x="183.47" y="254.75">HrpA</text>
<text x="183.47" y="265.28">HrpZ</text>
<text x="183.47" y="275.81">HrpB</text>
<text x="183.47" y="286.34">HrcJ</text>
<text x="183.47" y="296.87">HrpD</text>
<text x="183.47" y="307.4">HrpE</text>
<text x="183.47" y="317.93">HrpF</text>
<text x="183.47" y="328.46">HrpG</text>
<text x="183.47" y="338.99">HrcC</text>
<text x="183.47" y="349.52">HrpT</text>
<text x="183.47" y="360.05">HrpV</text>
<text x="183.47" y="370.58">HrcU</text>
<text x="183.47" y="381.11">HrcT</text>
<text x="183.47" y="391.64">HrcS</text>
<text x="183.47" y="402.17">HrcR</text>
<text x="183.47" y="412.7">HrcQb</text>
<text x="183.47" y="423.23">HrcQa</text>
<text x="183.47" y="433.76">HrpP</text>
<text x="183.47" y="444.29">HrpO</text>
<text x="183.47" y="454.82">HrcN</text>
<text x="183.47" y="465.35">HrpQ</text>
<text x="183.47" y="475.88">HrcV</text>
<text x="183.47" y="486.41">HrpJ</text>
<text x="183.47" y="496.94">HrpL</text>
<text x="183.47" y="507.47">HrpK</text>
</g>
<rect x="30.9" y="226.53" width="4" height="18.66" fill="#c00000"/>
<rect x="30.9" y="247.59" width="4" height="60.78" fill="#c00000"/>
<rect x="30.9" y="310.77" width="4" height="50.25" fill="#c00000"/>
<rect x="30.9" y="363.42" width="4" height="81.84" fill="#c00000"/>
<rect x="30.9" y="447.66" width="4" height="39.72" fill="#c00000"/>
<text transform="translate(34.7 208.6) rotate(-90)" text-anchor="middle" font-family='"Liberation Sans", Arial, Helvetica, sans-serif' font-size="8.9" fill="#111">operon</text>
<path d="M62.49 215V199.6H78.22V215M46.77 215V192H70.36V199.6M109.69 215V207H125.41V215M93.95 215V200H117.55V207M156.88 215V207H172.61V215M141.15 215V199.6H164.74V207M105.75 200V192H152.94V199.6M58.56 192V184.5H129.35V192" fill="none" stroke="#8f8f8f" stroke-width="0.6"/>
<g font-family='"Liberation Sans", Arial, Helvetica, sans-serif' font-size="7.1" fill="#111" stroke="#111" stroke-width="0.12" text-anchor="end">
<text transform="translate(51.37 515.64) rotate(-42.5)">OE13375_1</text>
<text transform="translate(67.09 515.64) rotate(-42.5)">OE13375_2</text>
<text transform="translate(82.82 515.64) rotate(-42.5)">OE13375_3</text>
<text transform="translate(98.55 515.64) rotate(-42.5)">G1_2</text>
<text transform="translate(114.28 515.64) rotate(-42.5)">G1_1</text>
<text transform="translate(130.01 515.64) rotate(-42.5)">G1_3</text>
<text transform="translate(145.75 515.64) rotate(-42.5)">Δ13375_1</text>
<text transform="translate(161.47 515.64) rotate(-42.5)">Δ13375_2</text>
<text transform="translate(177.21 515.64) rotate(-42.5)">Δ13375_3</text>
</g>
<defs><linearGradient id="gc" x1="0" y1="0" x2="0" y2="1">
<stop offset="0" stop-color="#e6181c"/>
<stop offset="0.03" stop-color="#e92221"/>
<stop offset="0.06" stop-color="#ed2c26"/>
<stop offset="0.09" stop-color="#ef362b"/>
<stop offset="0.12" stop-color="#ef4031"/>
<stop offset="0.16" stop-color="#f04b37"/>
<stop offset="0.19" stop-color="#f25640"/>
<stop offset="0.22" stop-color="#f36248"/>
<stop offset="0.25" stop-color="#f47352"/>
<stop offset="0.28" stop-color="#f5855c"/>
<stop offset="0.31" stop-color="#f69666"/>
<stop offset="0.34" stop-color="#f6a16f"/>
<stop offset="0.38" stop-color="#f7ac78"/>
<stop offset="0.41" stop-color="#f8c089"/>
<stop offset="0.44" stop-color="#fad399"/>
<stop offset="0.47" stop-color="#fbe3a5"/>
<stop offset="0.5" stop-color="#fcf1b0"/>
<stop offset="0.53" stop-color="#e8e5ac"/>
<stop offset="0.56" stop-color="#d1d4a8"/>
<stop offset="0.59" stop-color="#bac4a9"/>
<stop offset="0.62" stop-color="#a1b3ac"/>
<stop offset="0.66" stop-color="#8ca5b0"/>
<stop offset="0.69" stop-color="#7c9db6"/>
<stop offset="0.72" stop-color="#6d95b9"/>
<stop offset="0.75" stop-color="#5d8cb9"/>
<stop offset="0.78" stop-color="#4e83ba"/>
<stop offset="0.81" stop-color="#3e7ab8"/>
<stop offset="0.84" stop-color="#2e6db5"/>
<stop offset="0.88" stop-color="#1e5fb2"/>
<stop offset="0.91" stop-color="#1754b0"/>
<stop offset="0.94" stop-color="#1349ae"/>
<stop offset="0.97" stop-color="#0e3dac"/>
<stop offset="1" stop-color="#0a32aa"/>
</linearGradient></defs>
<rect x="212.5" y="209.8" width="9.4" height="70.7" fill="url(#gc)"/>
<g font-family='"Liberation Sans", Arial, Helvetica, sans-serif' font-size="7" fill="#111">
<path d="M221.9 209.8h1.5" stroke="#333" stroke-width="0.5"/>
<text x="224.3" y="212.3">1.80</text>
<path d="M221.9 218.64h1.5" stroke="#333" stroke-width="0.5"/>
<text x="224.3" y="221.14">1.60</text>
<path d="M221.9 227.48h1.5" stroke="#333" stroke-width="0.5"/>
<text x="224.3" y="229.98">1.40</text>
<path d="M221.9 236.31h1.5" stroke="#333" stroke-width="0.5"/>
<text x="224.3" y="238.81">1.20</text>
<path d="M221.9 245.15h1.5" stroke="#333" stroke-width="0.5"/>
<text x="224.3" y="247.65">1.00</text>
<path d="M221.9 253.99h1.5" stroke="#333" stroke-width="0.5"/>
<text x="224.3" y="256.49">0.80</text>
<path d="M221.9 262.83h1.5" stroke="#333" stroke-width="0.5"/>
<text x="224.3" y="265.33">0.60</text>
<path d="M221.9 271.66h1.5" stroke="#333" stroke-width="0.5"/>
<text x="224.3" y="274.16">0.40</text>
<path d="M221.9 280.5h1.5" stroke="#333" stroke-width="0.5"/>
<text x="224.3" y="283">0.20</text>
</g>
<rect x="271.45" y="216.3" width="15.7" height="9.5" fill="#f7f150"/>
<rect x="287.15" y="216.3" width="15.7" height="9.5" fill="#fcfcde"/>
<rect x="302.85" y="216.3" width="15.7" height="9.5" fill="#fcfaba"/>
<rect x="318.55" y="216.3" width="15.7" height="9.5" fill="#3333e1"/>
<rect x="334.25" y="216.3" width="15.7" height="9.5" fill="#6969e8"/>
<rect x="349.95" y="216.3" width="15.7" height="9.5" fill="#5959e6"/>
<rect x="365.65" y="216.3" width="15.7" height="9.5" fill="#f7eb0e"/>
<rect x="381.35" y="216.3" width="15.7" height="9.5" fill="#fdfde5"/>
<rect x="397.05" y="216.3" width="15.7" height="9.5" fill="#fefef8"/>
<rect x="271.45" y="225.8" width="15.7" height="9.5" fill="#f7f150"/>
<rect x="287.15" y="225.8" width="15.7" height="9.5" fill="#fdfde5"/>
<rect x="302.85" y="225.8" width="15.7" height="9.5" fill="#fbf8a3"/>
<rect x="318.55" y="225.8" width="15.7" height="9.5" fill="#4040e3"/>
<rect x="334.25" y="225.8" width="15.7" height="9.5" fill="#a0a0f0"/>
<rect x="349.95" y="225.8" width="15.7" height="9.5" fill="#7a7aea"/>
<rect x="365.65" y="225.8" width="15.7" height="9.5" fill="#f7ea0e"/>
<rect x="381.35" y="225.8" width="15.7" height="9.5" fill="#f9f9ff"/>
<rect x="397.05" y="225.8" width="15.7" height="9.5" fill="#fcfcde"/>
<rect x="271.45" y="235.3" width="15.7" height="9.5" fill="#f7f150"/>
<rect x="287.15" y="235.3" width="15.7" height="9.5" fill="#f8f363"/>
<rect x="302.85" y="235.3" width="15.7" height="9.5" fill="#fefeff"/>
<rect x="318.55" y="235.3" width="15.7" height="9.5" fill="#5e5ee7"/>
<rect x="334.25" y="235.3" width="15.7" height="9.5" fill="#c7c7f6"/>
<rect x="349.95" y="235.3" width="15.7" height="9.5" fill="#f9f9ff"/>
<rect x="365.65" y="235.3" width="15.7" height="9.5" fill="#8c8ced"/>
<rect x="381.35" y="235.3" width="15.7" height="9.5" fill="#1212da"/>
<rect x="397.05" y="235.3" width="15.7" height="9.5" fill="#4444e4"/>
<rect x="271.45" y="244.8" width="15.7" height="9.5" fill="#f7f150"/>
<rect x="287.15" y="244.8" width="15.7" height="9.5" fill="#fcfac1"/>
<rect x="302.85" y="244.8" width="15.7" height="9.5" fill="#f6ee32"/>
<rect x="318.55" y="244.8" width="15.7" height="9.5" fill="#cbcbf6"/>
<rect x="334.25" y="244.8" width="15.7" height="9.5" fill="#f6ee32"/>
<rect x="349.95" y="244.8" width="15.7" height="9.5" fill="#fbf897"/>
<rect x="365.65" y="244.8" width="15.7" height="9.5" fill="#f2f2fe"/>
<rect x="381.35" y="244.8" width="15.7" height="9.5" fill="#2a2adf"/>
<rect x="397.05" y="244.8" width="15.7" height="9.5" fill="#5959e6"/>
<rect x="271.45" y="254.3" width="15.7" height="9.5" fill="#f7f150"/>
<rect x="287.15" y="254.3" width="15.7" height="9.5" fill="#fbf8a3"/>
<rect x="302.85" y="254.3" width="15.7" height="9.5" fill="#fcf9ae"/>
<rect x="318.55" y="254.3" width="15.7" height="9.5" fill="#f2f2fe"/>
<rect x="334.25" y="254.3" width="15.7" height="9.5" fill="#faf680"/>
<rect x="349.95" y="254.3" width="15.7" height="9.5" fill="#f7f04b"/>
<rect x="365.65" y="254.3" width="15.7" height="9.5" fill="#adadf2"/>
<rect x="381.35" y="254.3" width="15.7" height="9.5" fill="#4040e3"/>
<rect x="397.05" y="254.3" width="15.7" height="9.5" fill="#4444e4"/>
<rect x="271.45" y="263.8" width="15.7" height="9.5" fill="#f7f150"/>
<rect x="287.15" y="263.8" width="15.7" height="9.5" fill="#faf78c"/>
<rect x="302.85" y="263.8" width="15.7" height="9.5" fill="#f7f150"/>
<rect x="318.55" y="263.8" width="15.7" height="9.5" fill="#c7c7f6"/>
<rect x="334.25" y="263.8" width="15.7" height="9.5" fill="#faf680"/>
<rect x="349.95" y="263.8" width="15.7" height="9.5" fill="#f9f576"/>
<rect x="365.65" y="263.8" width="15.7" height="9.5" fill="#babaf3"/>
<rect x="381.35" y="263.8" width="15.7" height="9.5" fill="#3737e2"/>
<rect x="397.05" y="263.8" width="15.7" height="9.5" fill="#4040e3"/>
<rect x="271.45" y="273.3" width="15.7" height="9.5" fill="#f7f150"/>
<rect x="287.15" y="273.3" width="15.7" height="9.5" fill="#fcf9ae"/>
<rect x="302.85" y="273.3" width="15.7" height="9.5" fill="#fbf8a3"/>
<rect x="318.55" y="273.3" width="15.7" height="9.5" fill="#e3e3fb"/>
<rect x="334.25" y="273.3" width="15.7" height="9.5" fill="#f7f04b"/>
<rect x="349.95" y="273.3" width="15.7" height="9.5" fill="#fbf897"/>
<rect x="365.65" y="273.3" width="15.7" height="9.5" fill="#eaeafc"/>
<rect x="381.35" y="273.3" width="15.7" height="9.5" fill="#5959e6"/>
<rect x="397.05" y="273.3" width="15.7" height="9.5" fill="#6969e8"/>
<rect x="271.45" y="282.8" width="15.7" height="9.5" fill="#f7f150"/>
<rect x="287.15" y="282.8" width="15.7" height="9.5" fill="#fcfaba"/>
<rect x="302.85" y="282.8" width="15.7" height="9.5" fill="#faf78c"/>
<rect x="318.55" y="282.8" width="15.7" height="9.5" fill="#fefef8"/>
<rect x="334.25" y="282.8" width="15.7" height="9.5" fill="#f6ed2f"/>
<rect x="349.95" y="282.8" width="15.7" height="9.5" fill="#f7f150"/>
<rect x="365.65" y="282.8" width="15.7" height="9.5" fill="#d0d0f7"/>
<rect x="381.35" y="282.8" width="15.7" height="9.5" fill="#3b3be2"/>
<rect x="397.05" y="282.8" width="15.7" height="9.5" fill="#4040e3"/>
<rect x="271.45" y="292.3" width="15.7" height="9.5" fill="#f7f150"/>
<rect x="287.15" y="292.3" width="15.7" height="9.5" fill="#f6ee32"/>
<rect x="302.85" y="292.3" width="15.7" height="9.5" fill="#fcf9ae"/>
<rect x="318.55" y="292.3" width="15.7" height="9.5" fill="#c3c3f5"/>
<rect x="334.25" y="292.3" width="15.7" height="9.5" fill="#ffffff"/>
<rect x="349.95" y="292.3" width="15.7" height="9.5" fill="#fcfbd0"/>
<rect x="365.65" y="292.3" width="15.7" height="9.5" fill="#babaf3"/>
<rect x="381.35" y="292.3" width="15.7" height="9.5" fill="#8080eb"/>
<rect x="397.05" y="292.3" width="15.7" height="9.5" fill="#4444e4"/>
<rect x="271.45" y="301.8" width="15.7" height="9.5" fill="#f7f150"/>
<rect x="287.15" y="301.8" width="15.7" height="9.5" fill="#f6f041"/>
<rect x="302.85" y="301.8" width="15.7" height="9.5" fill="#faf78c"/>
<rect x="318.55" y="301.8" width="15.7" height="9.5" fill="#f9f9ff"/>
<rect x="334.25" y="301.8" width="15.7" height="9.5" fill="#faf680"/>
<rect x="349.95" y="301.8" width="15.7" height="9.5" fill="#fcfbc8"/>
<rect x="365.65" y="301.8" width="15.7" height="9.5" fill="#a0a0f0"/>
<rect x="381.35" y="301.8" width="15.7" height="9.5" fill="#4f4fe5"/>
<rect x="397.05" y="301.8" width="15.7" height="9.5" fill="#4040e3"/>
<rect x="271.45" y="311.3" width="15.7" height="9.5" fill="#f7f150"/>
<rect x="287.15" y="311.3" width="15.7" height="9.5" fill="#f7f046"/>
<rect x="302.85" y="311.3" width="15.7" height="9.5" fill="#fbf8a3"/>
<rect x="318.55" y="311.3" width="15.7" height="9.5" fill="#c3c3f5"/>
<rect x="334.25" y="311.3" width="15.7" height="9.5" fill="#faf78c"/>
<rect x="349.95" y="311.3" width="15.7" height="9.5" fill="#fcfbc8"/>
<rect x="365.65" y="311.3" width="15.7" height="9.5" fill="#bebef4"/>
<rect x="381.35" y="311.3" width="15.7" height="9.5" fill="#6f6fe9"/>
<rect x="397.05" y="311.3" width="15.7" height="9.5" fill="#5454e6"/>
<rect x="271.45" y="320.8" width="15.7" height="9.5" fill="#f7f150"/>
<rect x="287.15" y="320.8" width="15.7" height="9.5" fill="#fcfac1"/>
<rect x="302.85" y="320.8" width="15.7" height="9.5" fill="#f7f04b"/>
<rect x="318.55" y="320.8" width="15.7" height="9.5" fill="#b6b6f2"/>
<rect x="334.25" y="320.8" width="15.7" height="9.5" fill="#fcfac1"/>
<rect x="349.95" y="320.8" width="15.7" height="9.5" fill="#fcfbc8"/>
<rect x="365.65" y="320.8" width="15.7" height="9.5" fill="#6f6fe9"/>
<rect x="381.35" y="320.8" width="15.7" height="9.5" fill="#3333e1"/>
<rect x="397.05" y="320.8" width="15.7" height="9.5" fill="#2222de"/>
<rect x="271.45" y="330.3" width="15.7" height="9.5" fill="#f7f150"/>
<rect x="287.15" y="330.3" width="15.7" height="9.5" fill="#fbf897"/>
<rect x="302.85" y="330.3" width="15.7" height="9.5" fill="#f7f046"/>
<rect x="318.55" y="330.3" width="15.7" height="9.5" fill="#b1b1f2"/>
<rect x="334.25" y="330.3" width="15.7" height="9.5" fill="#fefef2"/>
<rect x="349.95" y="330.3" width="15.7" height="9.5" fill="#fefeff"/>
<rect x="365.65" y="330.3" width="15.7" height="9.5" fill="#b6b6f2"/>
<rect x="381.35" y="330.3" width="15.7" height="9.5" fill="#5454e6"/>
<rect x="397.05" y="330.3" width="15.7" height="9.5" fill="#5e5ee7"/>
<rect x="271.45" y="339.8" width="15.7" height="9.5" fill="#f7f150"/>
<rect x="287.15" y="339.8" width="15.7" height="9.5" fill="#faf680"/>
<rect x="302.85" y="339.8" width="15.7" height="9.5" fill="#f6ec28"/>
<rect x="318.55" y="339.8" width="15.7" height="9.5" fill="#c7c7f6"/>
<rect x="334.25" y="339.8" width="15.7" height="9.5" fill="#fcf9ae"/>
<rect x="349.95" y="339.8" width="15.7" height="9.5" fill="#fefef8"/>
<rect x="365.65" y="339.8" width="15.7" height="9.5" fill="#b6b6f2"/>
<rect x="381.35" y="339.8" width="15.7" height="9.5" fill="#3737e2"/>
<rect x="397.05" y="339.8" width="15.7" height="9.5" fill="#5959e6"/>
<rect x="271.45" y="349.3" width="15.7" height="9.5" fill="#f7f150"/>
<rect x="287.15" y="349.3" width="15.7" height="9.5" fill="#f6e912"/>
<rect x="302.85" y="349.3" width="15.7" height="9.5" fill="#fcf9ae"/>
<rect x="318.55" y="349.3" width="15.7" height="9.5" fill="#fefef8"/>
<rect x="334.25" y="349.3" width="15.7" height="9.5" fill="#fcfcd7"/>
<rect x="349.95" y="349.3" width="15.7" height="9.5" fill="#fdfdff"/>
<rect x="365.65" y="349.3" width="15.7" height="9.5" fill="#fcfaba"/>
<rect x="381.35" y="349.3" width="15.7" height="9.5" fill="#4f4fe5"/>
<rect x="397.05" y="349.3" width="15.7" height="9.5" fill="#6f6fe9"/>
<rect x="271.45" y="358.8" width="15.7" height="9.5" fill="#f7f150"/>
<rect x="287.15" y="358.8" width="15.7" height="9.5" fill="#f6ee37"/>
<rect x="302.85" y="358.8" width="15.7" height="9.5" fill="#f9f46d"/>
<rect x="318.55" y="358.8" width="15.7" height="9.5" fill="#fefeff"/>
<rect x="334.25" y="358.8" width="15.7" height="9.5" fill="#fcfac1"/>
<rect x="349.95" y="358.8" width="15.7" height="9.5" fill="#fcfaba"/>
<rect x="365.65" y="358.8" width="15.7" height="9.5" fill="#fcf9ae"/>
<rect x="381.35" y="358.8" width="15.7" height="9.5" fill="#b1b1f2"/>
<rect x="397.05" y="358.8" width="15.7" height="9.5" fill="#9898ef"/>
<rect x="271.45" y="368.3" width="15.7" height="9.5" fill="#f7f150"/>
<rect x="287.15" y="368.3" width="15.7" height="9.5" fill="#f8f363"/>
<rect x="302.85" y="368.3" width="15.7" height="9.5" fill="#fcfac1"/>
<rect x="318.55" y="368.3" width="15.7" height="9.5" fill="#fbf897"/>
<rect x="334.25" y="368.3" width="15.7" height="9.5" fill="#fcfbd0"/>
<rect x="349.95" y="368.3" width="15.7" height="9.5" fill="#f9f46d"/>
<rect x="365.65" y="368.3" width="15.7" height="9.5" fill="#c3c3f5"/>
<rect x="381.35" y="368.3" width="15.7" height="9.5" fill="#9898ef"/>
<rect x="397.05" y="368.3" width="15.7" height="9.5" fill="#cbcbf6"/>
<rect x="271.45" y="377.8" width="15.7" height="9.5" fill="#f7f150"/>
<rect x="287.15" y="377.8" width="15.7" height="9.5" fill="#f8f363"/>
<rect x="302.85" y="377.8" width="15.7" height="9.5" fill="#fdfdeb"/>
<rect x="318.55" y="377.8" width="15.7" height="9.5" fill="#fcfcde"/>
<rect x="334.25" y="377.8" width="15.7" height="9.5" fill="#f9f46d"/>
<rect x="349.95" y="377.8" width="15.7" height="9.5" fill="#fcfaba"/>
<rect x="365.65" y="377.8" width="15.7" height="9.5" fill="#f2f2fe"/>
<rect x="381.35" y="377.8" width="15.7" height="9.5" fill="#6f6fe9"/>
<rect x="397.05" y="377.8" width="15.7" height="9.5" fill="#5959e6"/>
<rect x="271.45" y="387.3" width="15.7" height="9.5" fill="#f7f150"/>
<rect x="287.15" y="387.3" width="15.7" height="9.5" fill="#f8f25a"/>
<rect x="302.85" y="387.3" width="15.7" height="9.5" fill="#f8f25a"/>
<rect x="318.55" y="387.3" width="15.7" height="9.5" fill="#fefeff"/>
<rect x="334.25" y="387.3" width="15.7" height="9.5" fill="#f6ec28"/>
<rect x="349.95" y="387.3" width="15.7" height="9.5" fill="#faf78c"/>
<rect x="365.65" y="387.3" width="15.7" height="9.5" fill="#e3e3fb"/>
<rect x="381.35" y="387.3" width="15.7" height="9.5" fill="#8080eb"/>
<rect x="397.05" y="387.3" width="15.7" height="9.5" fill="#9494ee"/>
<rect x="271.45" y="396.8" width="15.7" height="9.5" fill="#f7f150"/>
<rect x="287.15" y="396.8" width="15.7" height="9.5" fill="#f5eb21"/>
<rect x="302.85" y="396.8" width="15.7" height="9.5" fill="#f9f576"/>
<rect x="318.55" y="396.8" width="15.7" height="9.5" fill="#fcfcde"/>
<rect x="334.25" y="396.8" width="15.7" height="9.5" fill="#f5eb21"/>
<rect x="349.95" y="396.8" width="15.7" height="9.5" fill="#f9f576"/>
<rect x="365.65" y="396.8" width="15.7" height="9.5" fill="#f2f2fe"/>
<rect x="381.35" y="396.8" width="15.7" height="9.5" fill="#a9a9f1"/>
<rect x="397.05" y="396.8" width="15.7" height="9.5" fill="#7a7aea"/>
<rect x="271.45" y="406.3" width="15.7" height="9.5" fill="#f7f150"/>
<rect x="287.15" y="406.3" width="15.7" height="9.5" fill="#f6f041"/>
<rect x="302.85" y="406.3" width="15.7" height="9.5" fill="#f6ee32"/>
<rect x="318.55" y="406.3" width="15.7" height="9.5" fill="#faf680"/>
<rect x="334.25" y="406.3" width="15.7" height="9.5" fill="#f8eb0c"/>
<rect x="349.95" y="406.3" width="15.7" height="9.5" fill="#f7eb0e"/>
<rect x="365.65" y="406.3" width="15.7" height="9.5" fill="#fefef2"/>
<rect x="381.35" y="406.3" width="15.7" height="9.5" fill="#fdfdeb"/>
<rect x="397.05" y="406.3" width="15.7" height="9.5" fill="#a0a0f0"/>
<rect x="271.45" y="415.8" width="15.7" height="9.5" fill="#f7f150"/>
<rect x="287.15" y="415.8" width="15.7" height="9.5" fill="#f8f25a"/>
<rect x="302.85" y="415.8" width="15.7" height="9.5" fill="#f9f46d"/>
<rect x="318.55" y="415.8" width="15.7" height="9.5" fill="#f7f150"/>
<rect x="334.25" y="415.8" width="15.7" height="9.5" fill="#f5e914"/>
<rect x="349.95" y="415.8" width="15.7" height="9.5" fill="#f6f041"/>
<rect x="365.65" y="415.8" width="15.7" height="9.5" fill="#fcf9ae"/>
<rect x="381.35" y="415.8" width="15.7" height="9.5" fill="#d0d0f7"/>
<rect x="397.05" y="415.8" width="15.7" height="9.5" fill="#8686ec"/>
<rect x="271.45" y="425.3" width="15.7" height="9.5" fill="#f7f150"/>
<rect x="287.15" y="425.3" width="15.7" height="9.5" fill="#f6f041"/>
<rect x="302.85" y="425.3" width="15.7" height="9.5" fill="#faf78c"/>
<rect x="318.55" y="425.3" width="15.7" height="9.5" fill="#fbf897"/>
<rect x="334.25" y="425.3" width="15.7" height="9.5" fill="#f6ed2f"/>
<rect x="349.95" y="425.3" width="15.7" height="9.5" fill="#f6ec25"/>
<rect x="365.65" y="425.3" width="15.7" height="9.5" fill="#fdfde5"/>
<rect x="381.35" y="425.3" width="15.7" height="9.5" fill="#adadf2"/>
<rect x="397.05" y="425.3" width="15.7" height="9.5" fill="#a4a4f0"/>
<rect x="271.45" y="434.8" width="15.7" height="9.5" fill="#f7f150"/>
<rect x="287.15" y="434.8" width="15.7" height="9.5" fill="#f6f041"/>
<rect x="302.85" y="434.8" width="15.7" height="9.5" fill="#f6ee32"/>
<rect x="318.55" y="434.8" width="15.7" height="9.5" fill="#f9f9ff"/>
<rect x="334.25" y="434.8" width="15.7" height="9.5" fill="#f7f046"/>
<rect x="349.95" y="434.8" width="15.7" height="9.5" fill="#f6f041"/>
<rect x="365.65" y="434.8" width="15.7" height="9.5" fill="#f6ed2b"/>
<rect x="381.35" y="434.8" width="15.7" height="9.5" fill="#9c9cef"/>
<rect x="397.05" y="434.8" width="15.7" height="9.5" fill="#a4a4f0"/>
<rect x="271.45" y="444.3" width="15.7" height="9.5" fill="#f7f150"/>
<rect x="287.15" y="444.3" width="15.7" height="9.5" fill="#fcfac1"/>
<rect x="302.85" y="444.3" width="15.7" height="9.5" fill="#faf680"/>
<rect x="318.55" y="444.3" width="15.7" height="9.5" fill="#fefef2"/>
<rect x="334.25" y="444.3" width="15.7" height="9.5" fill="#f6ec25"/>
<rect x="349.95" y="444.3" width="15.7" height="9.5" fill="#f6ef3c"/>
<rect x="365.65" y="444.3" width="15.7" height="9.5" fill="#f5e914"/>
<rect x="381.35" y="444.3" width="15.7" height="9.5" fill="#c7c7f6"/>
<rect x="397.05" y="444.3" width="15.7" height="9.5" fill="#cbcbf6"/>
<rect x="271.45" y="453.8" width="15.7" height="9.5" fill="#f7f150"/>
<rect x="287.15" y="453.8" width="15.7" height="9.5" fill="#fefef2"/>
<rect x="302.85" y="453.8" width="15.7" height="9.5" fill="#fcfbc8"/>
<rect x="318.55" y="453.8" width="15.7" height="9.5" fill="#bebef4"/>
<rect x="334.25" y="453.8" width="15.7" height="9.5" fill="#f7f150"/>
<rect x="349.95" y="453.8" width="15.7" height="9.5" fill="#fcfbc8"/>
<rect x="365.65" y="453.8" width="15.7" height="9.5" fill="#f7f150"/>
<rect x="381.35" y="453.8" width="15.7" height="9.5" fill="#a4a4f0"/>
<rect x="397.05" y="453.8" width="15.7" height="9.5" fill="#b6b6f2"/>
<rect x="271.45" y="463.3" width="15.7" height="9.5" fill="#f7f150"/>
<rect x="287.15" y="463.3" width="15.7" height="9.5" fill="#f9f46d"/>
<rect x="302.85" y="463.3" width="15.7" height="9.5" fill="#fdfde5"/>
<rect x="318.55" y="463.3" width="15.7" height="9.5" fill="#fefeff"/>
<rect x="334.25" y="463.3" width="15.7" height="9.5" fill="#f7f046"/>
<rect x="349.95" y="463.3" width="15.7" height="9.5" fill="#fcfbc8"/>
<rect x="365.65" y="463.3" width="15.7" height="9.5" fill="#f6f041"/>
<rect x="381.35" y="463.3" width="15.7" height="9.5" fill="#8c8ced"/>
<rect x="397.05" y="463.3" width="15.7" height="9.5" fill="#9090ee"/>
<rect x="271.45" y="472.8" width="15.7" height="9.5" fill="#f7f150"/>
<rect x="287.15" y="472.8" width="15.7" height="9.5" fill="#f9f9ff"/>
<rect x="302.85" y="472.8" width="15.7" height="9.5" fill="#fcf9ae"/>
<rect x="318.55" y="472.8" width="15.7" height="9.5" fill="#ffffff"/>
<rect x="334.25" y="472.8" width="15.7" height="9.5" fill="#f5ea17"/>
<rect x="349.95" y="472.8" width="15.7" height="9.5" fill="#f6ec28"/>
<rect x="365.65" y="472.8" width="15.7" height="9.5" fill="#f8f363"/>
<rect x="381.35" y="472.8" width="15.7" height="9.5" fill="#8c8ced"/>
<rect x="397.05" y="472.8" width="15.7" height="9.5" fill="#9898ef"/>
<rect x="271.45" y="482.3" width="15.7" height="9.5" fill="#f7f150"/>
<rect x="287.15" y="482.3" width="15.7" height="9.5" fill="#faf78c"/>
<rect x="302.85" y="482.3" width="15.7" height="9.5" fill="#faf680"/>
<rect x="318.55" y="482.3" width="15.7" height="9.5" fill="#fdfdff"/>
<rect x="334.25" y="482.3" width="15.7" height="9.5" fill="#f5e914"/>
<rect x="349.95" y="482.3" width="15.7" height="9.5" fill="#f7f04b"/>
<rect x="365.65" y="482.3" width="15.7" height="9.5" fill="#fcfbd0"/>
<rect x="381.35" y="482.3" width="15.7" height="9.5" fill="#8c8ced"/>
<rect x="397.05" y="482.3" width="15.7" height="9.5" fill="#8686ec"/>
<rect x="271.45" y="491.8" width="15.7" height="9.5" fill="#f7f150"/>
<rect x="287.15" y="491.8" width="15.7" height="9.5" fill="#fcfaba"/>
<rect x="302.85" y="491.8" width="15.7" height="9.5" fill="#f6ee37"/>
<rect x="318.55" y="491.8" width="15.7" height="9.5" fill="#a4a4f0"/>
<rect x="334.25" y="491.8" width="15.7" height="9.5" fill="#fefeff"/>
<rect x="349.95" y="491.8" width="15.7" height="9.5" fill="#d0d0f7"/>
<rect x="365.65" y="491.8" width="15.7" height="9.5" fill="#fdfdeb"/>
<rect x="381.35" y="491.8" width="15.7" height="9.5" fill="#b6b6f2"/>
<rect x="397.05" y="491.8" width="15.7" height="9.5" fill="#a9a9f1"/>
<rect x="271.45" y="501.3" width="15.7" height="9.5" fill="#f7f150"/>
<rect x="287.15" y="501.3" width="15.7" height="9.5" fill="#f9f9ff"/>
<rect x="302.85" y="501.3" width="15.7" height="9.5" fill="#f5e914"/>
<rect x="318.55" y="501.3" width="15.7" height="9.5" fill="#b1b1f2"/>
<rect x="334.25" y="501.3" width="15.7" height="9.5" fill="#f7ea0e"/>
<rect x="349.95" y="501.3" width="15.7" height="9.5" fill="#cbcbf6"/>
<rect x="365.65" y="501.3" width="15.7" height="9.5" fill="#fcfcde"/>
<rect x="381.35" y="501.3" width="15.7" height="9.5" fill="#bebef4"/>
<rect x="397.05" y="501.3" width="15.7" height="9.5" fill="#fefef2"/>
<path d="M271.45 216.3H412.75M271.45 225.8H412.75M271.45 235.3H412.75M271.45 244.8H412.75M271.45 254.3H412.75M271.45 263.8H412.75M271.45 273.3H412.75M271.45 282.8H412.75M271.45 292.3H412.75M271.45 301.8H412.75M271.45 311.3H412.75M271.45 320.8H412.75M271.45 330.3H412.75M271.45 339.8H412.75M271.45 349.3H412.75M271.45 358.8H412.75M271.45 368.3H412.75M271.45 377.8H412.75M271.45 387.3H412.75M271.45 396.8H412.75M271.45 406.3H412.75M271.45 415.8H412.75M271.45 425.3H412.75M271.45 434.8H412.75M271.45 444.3H412.75M271.45 453.8H412.75M271.45 463.3H412.75M271.45 472.8H412.75M271.45 482.3H412.75M271.45 491.8H412.75M271.45 501.3H412.75M271.45 510.8H412.75M271.45 216.3V510.8M287.15 216.3V510.8M302.85 216.3V510.8M318.55 216.3V510.8M334.25 216.3V510.8M349.95 216.3V510.8M365.65 216.3V510.8M381.35 216.3V510.8M397.05 216.3V510.8M412.75 216.3V510.8" fill="none" stroke="#2a2a30" stroke-width="0.75"/>
<g transform="scale(0.92 1)" font-family='"Liberation Sans", Arial, Helvetica, sans-serif' font-size="6.0" fill="#1c1c28" text-anchor="middle">
<text x="303.59" y="223.25">1.00</text>
<text x="320.65" y="223.25">0.85</text>
<text x="337.72" y="223.25">0.90</text>
<text x="354.78" y="223.25">0.36</text>
<text x="371.85" y="223.25">0.47</text>
<text x="388.91" y="223.25">0.44</text>
<text x="405.98" y="223.25">1.23</text>
<text x="423.04" y="223.25">0.84</text>
<text x="440.11" y="223.25">0.81</text>
<text x="303.59" y="232.75">1.00</text>
<text x="320.65" y="232.75">0.84</text>
<text x="337.72" y="232.75">0.92</text>
<text x="354.78" y="232.75">0.39</text>
<text x="371.85" y="232.75">0.58</text>
<text x="388.91" y="232.75">0.50</text>
<text x="405.98" y="232.75">1.22</text>
<text x="423.04" y="232.75">0.75</text>
<text x="440.11" y="232.75">0.85</text>
<text x="303.59" y="242.25">1.00</text>
<text x="320.65" y="242.25">0.98</text>
<text x="337.72" y="242.25">0.79</text>
<text x="354.78" y="242.25">0.45</text>
<text x="371.85" y="242.25">0.67</text>
<text x="388.91" y="242.25">0.75</text>
<text x="405.98" y="242.25">0.53</text>
<text x="423.04" y="242.25">0.26</text>
<text x="440.11" y="242.25">0.40</text>
<text x="303.59" y="251.75">1.00</text>
<text x="320.65" y="251.75">0.89</text>
<text x="337.72" y="251.75">1.06</text>
<text x="354.78" y="251.75">0.68</text>
<text x="371.85" y="251.75">1.06</text>
<text x="388.91" y="251.75">0.93</text>
<text x="405.98" y="251.75">0.74</text>
<text x="423.04" y="251.75">0.34</text>
<text x="440.11" y="251.75">0.44</text>
<text x="303.59" y="261.25">1.00</text>
<text x="320.65" y="261.25">0.92</text>
<text x="337.72" y="261.25">0.91</text>
<text x="354.78" y="261.25">0.74</text>
<text x="371.85" y="261.25">0.95</text>
<text x="388.91" y="261.25">1.01</text>
<text x="405.98" y="261.25">0.61</text>
<text x="423.04" y="261.25">0.39</text>
<text x="440.11" y="261.25">0.40</text>
<text x="303.59" y="270.75">1.00</text>
<text x="320.65" y="270.75">0.94</text>
<text x="337.72" y="270.75">1.00</text>
<text x="354.78" y="270.75">0.67</text>
<text x="371.85" y="270.75">0.95</text>
<text x="388.91" y="270.75">0.96</text>
<text x="405.98" y="270.75">0.64</text>
<text x="423.04" y="270.75">0.37</text>
<text x="440.11" y="270.75">0.39</text>
<text x="303.59" y="280.25">1.00</text>
<text x="320.65" y="280.25">0.91</text>
<text x="337.72" y="280.25">0.92</text>
<text x="354.78" y="280.25">0.72</text>
<text x="371.85" y="280.25">1.01</text>
<text x="388.91" y="280.25">0.93</text>
<text x="405.98" y="280.25">0.73</text>
<text x="423.04" y="280.25">0.44</text>
<text x="440.11" y="280.25">0.47</text>
<text x="303.59" y="289.75">1.00</text>
<text x="320.65" y="289.75">0.90</text>
<text x="337.72" y="289.75">0.94</text>
<text x="354.78" y="289.75">0.81</text>
<text x="371.85" y="289.75">1.07</text>
<text x="388.91" y="289.75">1.00</text>
<text x="405.98" y="289.75">0.69</text>
<text x="423.04" y="289.75">0.38</text>
<text x="440.11" y="289.75">0.39</text>
<text x="303.59" y="299.25">1.00</text>
<text x="320.65" y="299.25">1.06</text>
<text x="337.72" y="299.25">0.91</text>
<text x="354.78" y="299.25">0.66</text>
<text x="371.85" y="299.25">0.80</text>
<text x="388.91" y="299.25">0.87</text>
<text x="405.98" y="299.25">0.64</text>
<text x="423.04" y="299.25">0.51</text>
<text x="440.11" y="299.25">0.40</text>
<text x="303.59" y="308.75">1.00</text>
<text x="320.65" y="308.75">1.03</text>
<text x="337.72" y="308.75">0.94</text>
<text x="354.78" y="308.75">0.75</text>
<text x="371.85" y="308.75">0.95</text>
<text x="388.91" y="308.75">0.88</text>
<text x="405.98" y="308.75">0.58</text>
<text x="423.04" y="308.75">0.42</text>
<text x="440.11" y="308.75">0.39</text>
<text x="303.59" y="318.25">1.00</text>
<text x="320.65" y="318.25">1.02</text>
<text x="337.72" y="318.25">0.92</text>
<text x="354.78" y="318.25">0.66</text>
<text x="371.85" y="318.25">0.94</text>
<text x="388.91" y="318.25">0.88</text>
<text x="405.98" y="318.25">0.65</text>
<text x="423.04" y="318.25">0.48</text>
<text x="440.11" y="318.25">0.43</text>
<text x="303.59" y="327.75">1.00</text>
<text x="320.65" y="327.75">0.89</text>
<text x="337.72" y="327.75">1.01</text>
<text x="354.78" y="327.75">0.63</text>
<text x="371.85" y="327.75">0.89</text>
<text x="388.91" y="327.75">0.88</text>
<text x="405.98" y="327.75">0.48</text>
<text x="423.04" y="327.75">0.36</text>
<text x="440.11" y="327.75">0.32</text>
<text x="303.59" y="337.25">1.00</text>
<text x="320.65" y="337.25">0.93</text>
<text x="337.72" y="337.25">1.02</text>
<text x="354.78" y="337.25">0.62</text>
<text x="371.85" y="337.25">0.82</text>
<text x="388.91" y="337.25">0.79</text>
<text x="405.98" y="337.25">0.63</text>
<text x="423.04" y="337.25">0.43</text>
<text x="440.11" y="337.25">0.45</text>
<text x="303.59" y="346.75">1.00</text>
<text x="320.65" y="346.75">0.95</text>
<text x="337.72" y="346.75">1.09</text>
<text x="354.78" y="346.75">0.67</text>
<text x="371.85" y="346.75">0.91</text>
<text x="388.91" y="346.75">0.81</text>
<text x="405.98" y="346.75">0.63</text>
<text x="423.04" y="346.75">0.37</text>
<text x="440.11" y="346.75">0.44</text>
<text x="303.59" y="356.25">1.00</text>
<text x="320.65" y="356.25">1.17</text>
<text x="337.72" y="356.25">0.91</text>
<text x="354.78" y="356.25">0.81</text>
<text x="371.85" y="356.25">0.86</text>
<text x="388.91" y="356.25">0.78</text>
<text x="405.98" y="356.25">0.90</text>
<text x="423.04" y="356.25">0.42</text>
<text x="440.11" y="356.25">0.48</text>
<text x="303.59" y="365.75">1.00</text>
<text x="320.65" y="365.75">1.05</text>
<text x="337.72" y="365.75">0.97</text>
<text x="354.78" y="365.75">0.79</text>
<text x="371.85" y="365.75">0.89</text>
<text x="388.91" y="365.75">0.90</text>
<text x="405.98" y="365.75">0.91</text>
<text x="423.04" y="365.75">0.62</text>
<text x="440.11" y="365.75">0.56</text>
<text x="303.59" y="375.25">1.00</text>
<text x="320.65" y="375.25">0.98</text>
<text x="337.72" y="375.25">0.89</text>
<text x="354.78" y="375.25">0.93</text>
<text x="371.85" y="375.25">0.87</text>
<text x="388.91" y="375.25">0.97</text>
<text x="405.98" y="375.25">0.66</text>
<text x="423.04" y="375.25">0.56</text>
<text x="440.11" y="375.25">0.68</text>
<text x="303.59" y="384.75">1.00</text>
<text x="320.65" y="384.75">0.98</text>
<text x="337.72" y="384.75">0.83</text>
<text x="354.78" y="384.75">0.85</text>
<text x="371.85" y="384.75">0.97</text>
<text x="388.91" y="384.75">0.90</text>
<text x="405.98" y="384.75">0.74</text>
<text x="423.04" y="384.75">0.48</text>
<text x="440.11" y="384.75">0.44</text>
<text x="303.59" y="394.25">1.00</text>
<text x="320.65" y="394.25">0.99</text>
<text x="337.72" y="394.25">0.99</text>
<text x="354.78" y="394.25">0.79</text>
<text x="371.85" y="394.25">1.09</text>
<text x="388.91" y="394.25">0.94</text>
<text x="405.98" y="394.25">0.72</text>
<text x="423.04" y="394.25">0.51</text>
<text x="440.11" y="394.25">0.55</text>
<text x="303.59" y="403.75">1.00</text>
<text x="320.65" y="403.75">1.11</text>
<text x="337.72" y="403.75">0.96</text>
<text x="354.78" y="403.75">0.85</text>
<text x="371.85" y="403.75">1.11</text>
<text x="388.91" y="403.75">0.96</text>
<text x="405.98" y="403.75">0.74</text>
<text x="423.04" y="403.75">0.60</text>
<text x="440.11" y="403.75">0.50</text>
<text x="303.59" y="413.25">1.00</text>
<text x="320.65" y="413.25">1.03</text>
<text x="337.72" y="413.25">1.06</text>
<text x="354.78" y="413.25">0.95</text>
<text x="371.85" y="413.25">1.25</text>
<text x="388.91" y="413.25">1.23</text>
<text x="405.98" y="413.25">0.82</text>
<text x="423.04" y="413.25">0.83</text>
<text x="440.11" y="413.25">0.58</text>
<text x="303.59" y="422.75">1.00</text>
<text x="320.65" y="422.75">0.99</text>
<text x="337.72" y="422.75">0.97</text>
<text x="354.78" y="422.75">1.00</text>
<text x="371.85" y="422.75">1.15</text>
<text x="388.91" y="422.75">1.03</text>
<text x="405.98" y="422.75">0.91</text>
<text x="423.04" y="422.75">0.69</text>
<text x="440.11" y="422.75">0.52</text>
<text x="303.59" y="432.25">1.00</text>
<text x="320.65" y="432.25">1.03</text>
<text x="337.72" y="432.25">0.94</text>
<text x="354.78" y="432.25">0.93</text>
<text x="371.85" y="432.25">1.07</text>
<text x="388.91" y="432.25">1.10</text>
<text x="405.98" y="432.25">0.84</text>
<text x="423.04" y="432.25">0.61</text>
<text x="440.11" y="432.25">0.59</text>
<text x="303.59" y="441.75">1.00</text>
<text x="320.65" y="441.75">1.03</text>
<text x="337.72" y="441.75">1.06</text>
<text x="354.78" y="441.75">0.75</text>
<text x="371.85" y="441.75">1.02</text>
<text x="388.91" y="441.75">1.03</text>
<text x="405.98" y="441.75">1.08</text>
<text x="423.04" y="441.75">0.57</text>
<text x="440.11" y="441.75">0.59</text>
<text x="303.59" y="451.25">1.00</text>
<text x="320.65" y="451.25">0.89</text>
<text x="337.72" y="451.25">0.95</text>
<text x="354.78" y="451.25">0.82</text>
<text x="371.85" y="451.25">1.10</text>
<text x="388.91" y="451.25">1.04</text>
<text x="405.98" y="451.25">1.15</text>
<text x="423.04" y="451.25">0.67</text>
<text x="440.11" y="451.25">0.68</text>
<text x="303.59" y="460.75">1.00</text>
<text x="320.65" y="460.75">0.82</text>
<text x="337.72" y="460.75">0.88</text>
<text x="354.78" y="460.75">0.65</text>
<text x="371.85" y="460.75">1.00</text>
<text x="388.91" y="460.75">0.88</text>
<text x="405.98" y="460.75">1.00</text>
<text x="423.04" y="460.75">0.59</text>
<text x="440.11" y="460.75">0.63</text>
<text x="303.59" y="470.25">1.00</text>
<text x="320.65" y="470.25">0.97</text>
<text x="337.72" y="470.25">0.84</text>
<text x="354.78" y="470.25">0.79</text>
<text x="371.85" y="470.25">1.02</text>
<text x="388.91" y="470.25">0.88</text>
<text x="405.98" y="470.25">1.03</text>
<text x="423.04" y="470.25">0.53</text>
<text x="440.11" y="470.25">0.54</text>
<text x="303.59" y="479.75">1.00</text>
<text x="320.65" y="479.75">0.75</text>
<text x="337.72" y="479.75">0.91</text>
<text x="354.78" y="479.75">0.80</text>
<text x="371.85" y="479.75">1.14</text>
<text x="388.91" y="479.75">1.09</text>
<text x="405.98" y="479.75">0.98</text>
<text x="423.04" y="479.75">0.53</text>
<text x="440.11" y="479.75">0.56</text>
<text x="303.59" y="489.25">1.00</text>
<text x="320.65" y="489.25">0.94</text>
<text x="337.72" y="489.25">0.95</text>
<text x="354.78" y="489.25">0.78</text>
<text x="371.85" y="489.25">1.15</text>
<text x="388.91" y="489.25">1.01</text>
<text x="405.98" y="489.25">0.87</text>
<text x="423.04" y="489.25">0.53</text>
<text x="440.11" y="489.25">0.52</text>
<text x="303.59" y="498.75">1.00</text>
<text x="320.65" y="498.75">0.90</text>
<text x="337.72" y="498.75">1.05</text>
<text x="354.78" y="498.75">0.59</text>
<text x="371.85" y="498.75">0.79</text>
<text x="388.91" y="498.75">0.69</text>
<text x="405.98" y="498.75">0.83</text>
<text x="423.04" y="498.75">0.63</text>
<text x="440.11" y="498.75">0.60</text>
<text x="303.59" y="508.25">1.00</text>
<text x="320.65" y="508.25">0.75</text>
<text x="337.72" y="508.25">1.15</text>
<text x="354.78" y="508.25">0.62</text>
<text x="371.85" y="508.25">1.22</text>
<text x="388.91" y="508.25">0.68</text>
<text x="405.98" y="508.25">0.85</text>
<text x="423.04" y="508.25">0.65</text>
<text x="440.11" y="508.25">0.82</text>
</g>
<g font-family='"Liberation Sans", Arial, Helvetica, sans-serif' font-style="italic" font-size="7.3" fill="#111" stroke="#111" stroke-width="0.15">
<text x="415.15" y="223.75">HopZ5</text>
<text x="415.15" y="233.25">HopH1</text>
<text x="415.15" y="242.75">HopBB1-2</text>
<text x="415.15" y="252.25">HopD1</text>
<text x="415.15" y="261.75">AvrB4-1</text>
<text x="415.15" y="271.25">HopAZ1</text>
<text x="415.15" y="280.75">HopAO2</text>
<text x="415.15" y="290.25">HopR1</text>
<text x="415.15" y="299.75">HopAA1</text>
<text x="415.15" y="309.25">HopY1</text>
<text x="415.15" y="318.75">HopAW1</text>
<text x="415.15" y="328.25">HopQ1</text>
<text x="415.15" y="337.75">AvrD1</text>
<text x="415.15" y="347.25">HopAE1</text>
<text x="415.15" y="356.75">HopBB1-1</text>
<text x="415.15" y="366.25">HopAL-like</text>
<text x="415.15" y="375.75">HopAS1</text>
<text x="415.15" y="385.25">Eop3-like</text>
<text x="415.15" y="394.75">HopN1</text>
<text x="415.15" y="404.25">HopI1</text>
<text x="415.15" y="413.75">Shc</text>
<text x="415.15" y="423.25">HopX3</text>
<text x="415.15" y="432.75">AvrPto5</text>
<text x="415.15" y="442.25">HopM1</text>
<text x="415.15" y="451.75">HopAU1</text>
<text x="415.15" y="461.25">HopF2</text>
<text x="415.15" y="470.75">HopZ3</text>
<text x="415.15" y="480.25">HrpW</text>
<text x="415.15" y="489.75">hopBN1</text>
<text x="415.15" y="499.25">AvrE</text>
<text x="415.15" y="508.75">HopAI1</text>
</g>
<path d="M271.45 221.05H249.6V230.55H271.45M271.45 259.05H269.1V268.55H271.45M271.45 278.05H269.1V287.55H271.45M269.1 263.8H266.7V282.8H269.1M271.45 249.55H262.7V273.3H266.7M271.45 306.55H268.9V316.05H271.45M271.45 297.05H265.3V311.3H268.9M271.45 335.05H268.9V344.55H271.45M271.45 325.55H265.3V339.8H268.9M265.3 304.18H262.4V332.68H265.3M262.7 261.43H259.1V318.43H262.4M271.45 354.05H262.4V363.55H271.45M259.1 289.93H256.4V358.8H262.4M271.45 392.05H268.9V401.55H271.45M271.45 382.55H265.3V396.8H268.9M271.45 373.05H261.6V389.68H265.3M256.4 324.36H253.8V381.36H261.6M271.45 240.05H252.7V352.86H253.8M271.45 420.55H259.2V430.05H271.45M271.45 411.05H255.8V425.3H259.2M271.45 439.55H262.4V449.05H271.45M271.45 458.55H265.3V468.05H271.45M271.45 477.55H265.3V487.05H271.45M265.3 463.3H262.4V482.3H265.3M262.4 444.3H259.2V472.8H262.4M271.45 496.55H259.2V506.05H271.45M259.2 458.55H255.8V501.3H259.2M255.8 418.18H252.9V479.93H255.8M252.7 296.46H250V449.05H252.9M249.6 225.8H246.4V372.75H250" fill="none" stroke="#9c9c9c" stroke-width="0.65"/>
<g font-family='"Liberation Sans", Arial, Helvetica, sans-serif' font-size="7.1" fill="#111" stroke="#111" stroke-width="0.12" text-anchor="end">
<text transform="translate(285.3 517.2) rotate(-42.5)">G1_1</text>
<text transform="translate(301 517.2) rotate(-42.5)">G1_2</text>
<text transform="translate(316.7 517.2) rotate(-42.5)">G1_3</text>
<text transform="translate(332.4 517.2) rotate(-42.5)">Δ13375_1</text>
<text transform="translate(348.1 517.2) rotate(-42.5)">Δ13375_2</text>
<text transform="translate(363.8 517.2) rotate(-42.5)">Δ13375_3</text>
<text transform="translate(379.5 517.2) rotate(-42.5)">OE13375_1</text>
<text transform="translate(395.2 517.2) rotate(-42.5)">OE13375_2</text>
<text transform="translate(410.9 517.2) rotate(-42.5)">OE13375_3</text>
</g>
<defs><linearGradient id="gd" x1="0" y1="0" x2="0" y2="1">
<stop offset="0" stop-color="#fff000"/>
<stop offset="0.03" stop-color="#fff005"/>
<stop offset="0.06" stop-color="#fef00a"/>
<stop offset="0.09" stop-color="#fef010"/>
<stop offset="0.12" stop-color="#fef015"/>
<stop offset="0.16" stop-color="#fdf01a"/>
<stop offset="0.19" stop-color="#fdf129"/>
<stop offset="0.22" stop-color="#fcf23d"/>
<stop offset="0.25" stop-color="#fcf350"/>
<stop offset="0.28" stop-color="#fcf46a"/>
<stop offset="0.31" stop-color="#fbf685"/>
<stop offset="0.34" stop-color="#fbf89e"/>
<stop offset="0.38" stop-color="#fcfab5"/>
<stop offset="0.41" stop-color="#fdfbcc"/>
<stop offset="0.44" stop-color="#fefddf"/>
<stop offset="0.47" stop-color="#fefeef"/>
<stop offset="0.5" stop-color="#ffffff"/>
<stop offset="0.53" stop-color="#fafaff"/>
<stop offset="0.56" stop-color="#e6e6fc"/>
<stop offset="0.59" stop-color="#cfcff7"/>
<stop offset="0.62" stop-color="#bebef4"/>
<stop offset="0.66" stop-color="#aeaef2"/>
<stop offset="0.69" stop-color="#9e9ef0"/>
<stop offset="0.72" stop-color="#8f8fed"/>
<stop offset="0.75" stop-color="#7a7aea"/>
<stop offset="0.78" stop-color="#6565e8"/>
<stop offset="0.81" stop-color="#5151e5"/>
<stop offset="0.84" stop-color="#3f3fe3"/>
<stop offset="0.88" stop-color="#2e2ee0"/>
<stop offset="0.91" stop-color="#1e1edd"/>
<stop offset="0.94" stop-color="#1515db"/>
<stop offset="0.97" stop-color="#0e0ed9"/>
<stop offset="1" stop-color="#0808d7"/>
</linearGradient></defs>
<rect x="458.8" y="210.2" width="9.0" height="70.0" fill="url(#gd)" stroke="#888" stroke-width="0.5"/>
<g font-family='"Liberation Sans", Arial, Helvetica, sans-serif' font-size="6.5" fill="#111">
<path d="M467.8 210.2h1.5" stroke="#333" stroke-width="0.5"/>
<text x="470.4" y="212.6">1.40</text>
<path d="M467.8 221.87h1.5" stroke="#333" stroke-width="0.5"/>
<text x="470.4" y="224.27">1.20</text>
<path d="M467.8 233.53h1.5" stroke="#333" stroke-width="0.5"/>
<text x="470.4" y="235.93">1.00</text>
<path d="M467.8 245.2h1.5" stroke="#333" stroke-width="0.5"/>
<text x="470.4" y="247.6">0.80</text>
<path d="M467.8 256.87h1.5" stroke="#333" stroke-width="0.5"/>
<text x="470.4" y="259.27">0.60</text>
<path d="M467.8 268.53h1.5" stroke="#333" stroke-width="0.5"/>
<text x="470.4" y="270.93">0.40</text>
<path d="M467.8 280.2h1.5" stroke="#333" stroke-width="0.5"/>
<text x="470.4" y="282.6">0.20</text>
</g>
</svg></body></html>
